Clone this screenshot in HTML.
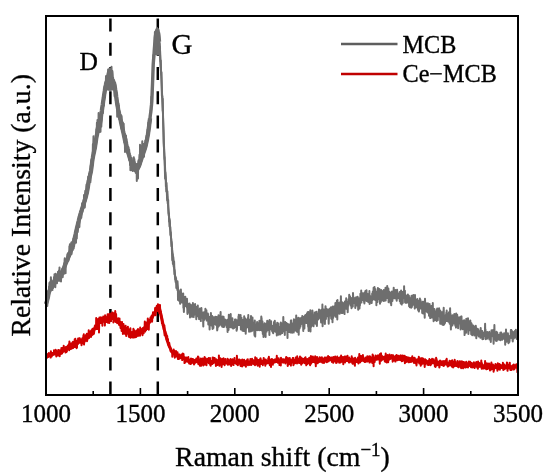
<!DOCTYPE html>
<html><head><meta charset="utf-8"><style>
html,body{margin:0;padding:0;background:#fff;width:550px;height:476px;overflow:hidden}
svg{display:block}
</style></head><body>
<svg width="550" height="476" viewBox="0 0 550 476">
<rect width="550" height="476" fill="#fff"/>
<line x1="110.4" y1="394.6" x2="110.4" y2="17" stroke="#000" stroke-width="2.5" stroke-dasharray="13 11.2"/>
<line x1="157.8" y1="394.6" x2="157.8" y2="17" stroke="#000" stroke-width="2.5" stroke-dasharray="13 11.2"/>
<polyline points="46.0,304.0 46.2,303.3 46.5,302.5 46.8,301.7 47.0,300.9 47.2,300.0 47.5,299.0 47.8,297.9 48.0,296.6 48.2,295.3 48.5,294.0 48.8,292.9 49.0,292.0 49.2,291.3 49.5,290.8 49.8,290.2 50.0,289.8 50.2,289.3 50.5,288.9 50.8,288.5 51.0,288.0 51.2,287.5 51.5,287.0 51.8,286.6 52.0,286.1 52.2,285.6 52.5,285.1 52.8,284.6 53.0,284.1 53.2,283.7 53.5,283.2 53.8,282.7 54.0,282.3 54.2,281.8 54.5,281.4 54.8,281.0 55.0,280.5 55.2,280.1 55.5,279.7 55.8,279.4 56.0,279.0 56.2,278.7 56.5,278.3 56.8,278.0 57.0,277.7 57.2,277.4 57.5,277.2 57.8,276.9 58.0,276.6 58.2,276.4 58.5,276.1 58.8,275.9 59.0,275.6 59.2,275.4 59.5,275.1 59.8,274.9 60.0,274.6 60.2,274.3 60.5,274.0 60.8,273.7 61.0,273.4 61.2,273.1 61.5,272.8 61.8,272.4 62.0,272.0 62.2,271.6 62.5,271.1 62.8,270.6 63.0,270.1 63.2,269.5 63.5,268.9 63.8,268.3 64.0,267.7 64.2,267.1 64.5,266.5 64.8,265.8 65.0,265.2 65.2,264.6 65.5,264.0 65.8,263.4 66.0,262.8 66.2,262.2 66.5,261.6 66.8,261.0 67.0,260.5 67.2,259.9 67.5,259.3 67.8,258.7 68.0,258.1 68.2,257.4 68.5,256.8 68.8,256.2 69.0,255.6 69.2,254.9 69.5,254.3 69.8,253.7 70.0,253.0 70.2,252.3 70.5,251.7 70.8,251.0 71.0,250.4 71.2,249.7 71.5,249.0 71.8,248.3 72.0,247.6 72.2,246.9 72.5,246.2 72.8,245.4 73.0,244.7 73.2,243.8 73.5,243.0 73.8,242.1 74.0,241.2 74.2,240.2 74.5,239.1 74.8,238.0 75.0,236.9 75.2,235.8 75.5,234.7 75.8,233.5 76.0,232.4 76.2,231.3 76.5,230.1 76.8,229.1 77.0,228.0 77.2,227.0 77.5,225.9 77.8,224.9 78.0,223.8 78.2,222.8 78.5,221.8 78.8,220.7 79.0,219.7 79.2,218.7 79.5,217.7 79.8,216.8 80.0,215.8 80.2,214.9 80.5,214.0 80.8,213.1 81.0,212.3 81.2,211.5 81.5,210.7 81.8,209.9 82.0,209.2 82.2,208.4 82.5,207.7 82.8,206.9 83.0,206.2 83.2,205.4 83.5,204.6 83.8,203.8 84.0,203.0 84.2,202.2 84.5,201.3 84.8,200.5 85.0,199.7 85.2,198.8 85.5,198.0 85.8,197.1 86.0,196.2 86.2,195.2 86.5,194.2 86.8,193.1 87.0,192.0 87.2,190.7 87.5,189.3 87.8,187.8 88.0,186.1 88.2,184.5 88.5,182.9 88.8,181.4 89.0,180.0 89.2,178.8 89.5,177.7 89.8,176.6 90.0,175.6 90.2,174.6 90.5,173.5 90.8,172.3 91.0,171.0 91.2,169.4 91.5,167.5 91.8,165.5 92.0,163.4 92.2,161.4 92.5,159.6 92.8,158.1 93.0,156.7 93.2,155.5 93.5,154.3 93.8,153.1 94.0,152.0 94.2,150.8 94.5,149.6 94.8,148.4 95.0,147.0 95.2,145.5 95.5,143.8 95.8,142.1 96.0,140.3 96.2,138.6 96.5,137.1 96.8,135.8 97.0,134.6 97.2,133.5 97.5,132.5 97.8,131.6 98.0,130.7 98.2,129.9 98.5,129.1 98.8,128.2 99.0,127.3 99.2,126.4 99.5,125.3 99.8,124.2 100.0,123.0 100.2,121.6 100.5,120.0 100.8,118.2 101.0,116.3 101.2,114.5 101.5,112.7 101.8,111.0 102.0,109.3 102.2,107.7 102.5,106.0 102.8,104.3 103.0,102.7 103.2,101.0 103.5,99.3 103.8,97.7 104.0,96.0 104.2,94.3 104.5,92.6 104.8,90.9 105.0,89.4 105.2,87.9 105.5,86.4 105.8,85.2 106.0,84.1 106.2,83.1 106.5,82.3 106.8,81.5 107.0,80.9 107.2,80.4 107.5,80.1 107.8,79.7 108.0,79.4 108.2,79.2 108.5,79.0 108.8,78.8 109.0,78.8 109.2,78.8 109.5,78.8 109.8,78.8 110.0,78.8 110.2,78.8 110.5,78.8 110.8,78.8 111.0,78.8 111.2,78.8 111.5,79.0 111.8,79.2 112.0,79.4 112.2,79.7 112.5,80.1 112.8,80.4 113.0,80.9 113.2,81.4 113.5,82.2 113.8,83.0 114.0,83.9 114.2,84.8 114.5,85.8 114.8,87.0 115.0,88.2 115.2,89.6 115.5,91.1 115.8,92.8 116.0,94.7 116.2,96.6 116.5,98.6 116.8,100.6 117.0,102.6 117.2,104.3 117.5,105.8 117.8,107.1 118.0,108.4 118.2,109.5 118.5,110.7 118.8,111.8 119.0,113.0 119.2,114.2 119.5,115.3 119.8,116.4 120.0,117.6 120.2,118.7 120.5,119.8 120.8,120.9 121.0,122.0 121.2,123.1 121.5,124.2 121.8,125.4 122.0,126.5 122.2,127.6 122.5,128.8 122.8,129.9 123.0,131.0 123.2,132.1 123.5,133.3 123.8,134.4 124.0,135.5 124.2,136.7 124.5,137.8 124.8,138.9 125.0,140.0 125.2,141.1 125.5,142.2 125.8,143.4 126.0,144.5 126.2,145.6 126.5,146.6 126.8,147.6 127.0,148.6 127.2,149.5 127.5,150.4 127.8,151.2 128.0,152.0 128.2,152.8 128.5,153.5 128.8,154.3 129.0,155.1 129.2,155.8 129.5,156.7 129.8,157.5 130.0,158.3 130.2,159.2 130.5,160.0 130.8,160.8 131.0,161.6 131.2,162.3 131.5,163.0 131.8,163.6 132.0,164.2 132.2,164.7 132.5,165.3 132.8,165.8 133.0,166.3 133.2,166.7 133.5,167.2 133.8,167.6 134.0,168.0 134.2,168.4 134.5,168.8 134.8,169.2 135.0,169.6 135.2,170.0 135.5,170.3 135.8,170.4 136.0,170.5 136.2,170.4 136.5,170.3 136.8,170.0 137.0,169.7 137.2,169.3 137.5,168.9 137.8,168.4 138.0,168.0 138.2,167.5 138.5,167.0 138.8,166.5 139.0,165.9 139.2,165.3 139.5,164.6 139.8,163.9 140.0,163.1 140.2,162.3 140.5,161.5 140.8,160.8 141.0,160.0 141.2,159.2 141.5,158.4 141.8,157.6 142.0,156.8 142.2,156.0 142.5,155.2 142.8,154.5 143.0,153.8 143.2,153.1 143.5,152.4 143.8,151.7 144.0,151.1 144.2,150.4 144.5,149.6 144.8,148.9 145.0,148.1 145.2,147.2 145.5,146.3 145.8,145.3 146.0,144.2 146.2,143.1 146.5,142.0 146.8,140.8 147.0,139.6 147.2,138.3 147.5,136.9 147.8,135.5 148.0,134.0 148.2,132.5 148.5,130.8 148.8,129.0 149.0,127.0 149.2,125.0 149.5,122.8 149.8,120.6 150.0,118.4" fill="none" stroke="#6e6e6e" stroke-width="4.3" stroke-linejoin="round"/>
<polyline points="149.0,127.0 149.2,125.0 149.5,122.8 149.8,120.6 150.0,118.4 150.2,116.2 150.5,114.0 150.8,112.0 151.0,110.0 151.2,107.7 151.5,105.0 151.8,101.3 152.0,96.6 152.2,91.2 152.5,84.2 152.8,76.3 153.0,70.1 153.2,64.7 153.5,60.5 153.8,57.3 154.0,54.5 154.2,51.3 154.5,47.4 154.8,43.6 155.0,40.6 155.2,37.8 155.5,35.6 155.8,34.2 156.0,33.0 156.2,31.9 156.5,31.0 156.8,30.2 157.0,29.7 157.2,29.5 157.5,29.6 157.8,30.0 158.0,30.8 158.2,31.7 158.5,32.9 158.8,34.2 159.0,35.7 159.2,38.3 159.5,41.6" fill="none" stroke="#6e6e6e" stroke-width="3.4" stroke-linejoin="round"/>
<polyline points="159.0,35.7 159.2,38.3 159.5,41.6 159.8,45.4 160.0,50.1 160.2,54.9 160.5,60.0 160.8,64.9 161.0,69.9 161.2,75.3 161.5,80.9 161.8,86.6 162.0,92.2 162.2,97.4 162.5,102.7 162.8,108.5 163.0,114.7 163.2,121.4 163.5,129.4 163.8,137.7 164.0,145.0 164.2,151.1 164.5,156.7 164.8,161.9 165.0,166.6 165.2,170.8 165.5,174.6 165.8,178.1 166.0,181.3 166.2,184.4 166.5,187.4 166.8,190.3 167.0,193.1 167.2,195.9 167.5,198.6 167.8,201.3 168.0,204.0 168.2,206.8 168.5,209.6 168.8,212.4 169.0,215.2 169.2,218.0 169.5,220.7 169.8,223.5 170.0,226.3 170.2,229.0 170.5,231.7 170.8,234.4 171.0,237.0 171.2,239.6 171.5,242.2 171.8,244.8 172.0,247.4 172.2,249.9 172.5,252.3 172.8,254.7 173.0,257.0 173.2,259.3 173.5,261.6 173.8,263.9 174.0,266.2 174.2,268.4 174.5,270.6 174.8,272.7 175.0,274.7 175.2,276.5 175.5,278.2 175.8,279.7 176.0,281.0 176.2,282.1 176.5,283.2 176.8,284.3 177.0,285.2 177.2,286.1 177.5,287.0 177.8,287.8 178.0,288.6 178.2,289.4 178.5,290.1 178.8,290.8 179.0,291.5 179.2,292.1 179.5,292.8 179.8,293.4 180.0,294.0" fill="none" stroke="#6e6e6e" stroke-width="2.0" stroke-linejoin="round"/>
<polyline points="179.0,291.5 179.5,292.8 180.0,294.0 180.5,295.2 181.0,296.4 181.5,297.5 182.0,298.5 182.5,299.5 183.0,300.4 183.5,301.2 184.0,302.0 184.5,302.7 185.0,303.5 185.5,304.1 186.0,304.8 186.5,305.4 187.0,306.0 187.5,306.6 188.0,307.2 188.5,307.7 189.0,308.1 189.5,308.6 190.0,309.0 190.5,309.4 191.0,309.7 191.5,310.0 192.0,310.3 192.5,310.6 193.0,310.9 193.5,311.2 194.0,311.4 194.5,311.7 195.0,312.0 195.5,312.3 196.0,312.6 196.5,312.9 197.0,313.2 197.5,313.6 198.0,313.9 198.5,314.2 199.0,314.5 199.5,314.7 200.0,315.0 200.5,315.3 201.0,315.5 201.5,315.8 202.0,316.0 202.5,316.3 203.0,316.5 203.5,316.7 204.0,317.0 204.5,317.2 205.0,317.4 205.5,317.6 206.0,317.8 206.5,318.0 207.0,318.2 207.5,318.3 208.0,318.5 208.5,318.7 209.0,318.8 209.5,318.9 210.0,319.1 210.5,319.2 211.0,319.4 211.5,319.5 212.0,319.6 212.5,319.8 213.0,319.9 213.5,320.0 214.0,320.2 214.5,320.3 215.0,320.4 215.5,320.5 216.0,320.6 216.5,320.8 217.0,320.9 217.5,321.0 218.0,321.1 218.5,321.2 219.0,321.3 219.5,321.4 220.0,321.5 220.5,321.6 221.0,321.7 221.5,321.8 222.0,321.9 222.5,321.9 223.0,322.0 223.5,322.1 224.0,322.2 224.5,322.3 225.0,322.4 225.5,322.4 226.0,322.5 226.5,322.6 227.0,322.6 227.5,322.7 228.0,322.8 228.5,322.8 229.0,322.9 229.5,323.0 230.0,323.0 230.5,323.1 231.0,323.1 231.5,323.2 232.0,323.2 232.5,323.3 233.0,323.3 233.5,323.4 234.0,323.4 234.5,323.5 235.0,323.5 235.5,323.6 236.0,323.6 236.5,323.7 237.0,323.7 237.5,323.8 238.0,323.8 238.5,323.9 239.0,323.9 239.5,324.0 240.0,324.0 240.5,324.1 241.0,324.1 241.5,324.2 242.0,324.2 242.5,324.3 243.0,324.3 243.5,324.4 244.0,324.4 244.5,324.5 245.0,324.6 245.5,324.6 246.0,324.7 246.5,324.8 247.0,324.8 247.5,324.9 248.0,325.0 248.5,325.1 249.0,325.1 249.5,325.2 250.0,325.3 250.5,325.4 251.0,325.4 251.5,325.5 252.0,325.6 252.5,325.7 253.0,325.8 253.5,325.8 254.0,325.9 254.5,326.0 255.0,326.1 255.5,326.1 256.0,326.2 256.5,326.3 257.0,326.4 257.5,326.4 258.0,326.5 258.5,326.6 259.0,326.6 259.5,326.7 260.0,326.7 260.5,326.8 261.0,326.8 261.5,326.9 262.0,326.9 262.5,327.0 263.0,327.0 263.5,327.1 264.0,327.1 264.5,327.1 265.0,327.2 265.5,327.2 266.0,327.3 266.5,327.3 267.0,327.3 267.5,327.4 268.0,327.4 268.5,327.4 269.0,327.5 269.5,327.5 270.0,327.6 270.5,327.6 271.0,327.6 271.5,327.7 272.0,327.7 272.5,327.7 273.0,327.7 273.5,327.8 274.0,327.8 274.5,327.8 275.0,327.9 275.5,327.9 276.0,327.9 276.5,327.9 277.0,327.9 277.5,327.9 278.0,328.0 278.5,328.0 279.0,328.0 279.5,328.0 280.0,328.0 280.5,328.0 281.0,328.0 281.5,328.0 282.0,328.0 282.5,328.0 283.0,327.9 283.5,327.9 284.0,327.9 284.5,327.8 285.0,327.8 285.5,327.8 286.0,327.7 286.5,327.6 287.0,327.6 287.5,327.5 288.0,327.4 288.5,327.4 289.0,327.3 289.5,327.2 290.0,327.2 290.5,327.1 291.0,327.0 291.5,326.9 292.0,326.8 292.5,326.7 293.0,326.5 293.5,326.3 294.0,326.2 294.5,326.0 295.0,325.8 295.5,325.5 296.0,325.3 296.5,325.1 297.0,324.8 297.5,324.6 298.0,324.3 298.5,324.1 299.0,323.8 299.5,323.6 300.0,323.4 300.5,323.1 301.0,322.9 301.5,322.7 302.0,322.5 302.5,322.3 303.0,322.1 303.5,321.9 304.0,321.7 304.5,321.5 305.0,321.3 305.5,321.1 306.0,321.0 306.5,320.8 307.0,320.6 307.5,320.4 308.0,320.2 308.5,320.0 309.0,319.8 309.5,319.6 310.0,319.5 310.5,319.3 311.0,319.1 311.5,318.9 312.0,318.7 312.5,318.6 313.0,318.4 313.5,318.2 314.0,318.1 314.5,317.9 315.0,317.7 315.5,317.6 316.0,317.4 316.5,317.3 317.0,317.1 317.5,317.0 318.0,316.8 318.5,316.7 319.0,316.5 319.5,316.4 320.0,316.2 320.5,316.1 321.0,315.9 321.5,315.7 322.0,315.6 322.5,315.4 323.0,315.2 323.5,315.0 324.0,314.8 324.5,314.6 325.0,314.4 325.5,314.2 326.0,314.0 326.5,313.8 327.0,313.6 327.5,313.4 328.0,313.1 328.5,312.9 329.0,312.7 329.5,312.4 330.0,312.2 330.5,311.9 331.0,311.7 331.5,311.5 332.0,311.2 332.5,311.0 333.0,310.7 333.5,310.5 334.0,310.2 334.5,310.0 335.0,309.8 335.5,309.5 336.0,309.3 336.5,309.0 337.0,308.8 337.5,308.5 338.0,308.3 338.5,308.0 339.0,307.7 339.5,307.5 340.0,307.2 340.5,307.0 341.0,306.7 341.5,306.5 342.0,306.2 342.5,306.0 343.0,305.7 343.5,305.5 344.0,305.2 344.5,305.0 345.0,304.7 345.5,304.5 346.0,304.3 346.5,304.0 347.0,303.8 347.5,303.5 348.0,303.3 348.5,303.0 349.0,302.8 349.5,302.5 350.0,302.3 350.5,302.1 351.0,301.8 351.5,301.6 352.0,301.4 352.5,301.2 353.0,301.0 353.5,300.8 354.0,300.6 354.5,300.4 355.0,300.3 355.5,300.1 356.0,300.0 356.5,299.9 357.0,299.8 357.5,299.7 358.0,299.6 358.5,299.5 359.0,299.4 359.5,299.3 360.0,299.2 360.5,299.2 361.0,299.1 361.5,299.0 362.0,299.0 362.5,298.9 363.0,298.8 363.5,298.8 364.0,298.7 364.5,298.6 365.0,298.6 365.5,298.5 366.0,298.4 366.5,298.4 367.0,298.3 367.5,298.2 368.0,298.2 368.5,298.1 369.0,298.0 369.5,298.0 370.0,297.9 370.5,297.8 371.0,297.8 371.5,297.7 372.0,297.6 372.5,297.6 373.0,297.5 373.5,297.5 374.0,297.4 374.5,297.3 375.0,297.3 375.5,297.2 376.0,297.2 376.5,297.1 377.0,297.1 377.5,297.0 378.0,297.0 378.5,297.0 379.0,296.9 379.5,296.9 380.0,296.9 380.5,296.8 381.0,296.8 381.5,296.8 382.0,296.7 382.5,296.7 383.0,296.7 383.5,296.7 384.0,296.6 384.5,296.6 385.0,296.6 385.5,296.6 386.0,296.5 386.5,296.5 387.0,296.5 387.5,296.4 388.0,296.4 388.5,296.3 389.0,296.3 389.5,296.2 390.0,296.2 390.5,296.1 391.0,296.0 391.5,295.9 392.0,295.8 392.5,295.7 393.0,295.6 393.5,295.4 394.0,295.3 394.5,295.2 395.0,295.1 395.5,295.0 396.0,295.0 396.5,294.9 397.0,294.8 397.5,294.8 398.0,294.8 398.5,294.8 399.0,294.9 399.5,294.9 400.0,295.0 400.5,295.1 401.0,295.3 401.5,295.4 402.0,295.6 402.5,295.8 403.0,296.0 403.5,296.2 404.0,296.4 404.5,296.6 405.0,296.8 405.5,297.0 406.0,297.2 406.5,297.4 407.0,297.6 407.5,297.9 408.0,298.1 408.5,298.4 409.0,298.6 409.5,298.9 410.0,299.2 410.5,299.5 411.0,299.8 411.5,300.1 412.0,300.4 412.5,300.7 413.0,301.1 413.5,301.4 414.0,301.7 414.5,302.0 415.0,302.3 415.5,302.7 416.0,303.0 416.5,303.3 417.0,303.6 417.5,303.9 418.0,304.2 418.5,304.5 419.0,304.8 419.5,305.1 420.0,305.3 420.5,305.6 421.0,305.9 421.5,306.2 422.0,306.5 422.5,306.8 423.0,307.1 423.5,307.4 424.0,307.7 424.5,308.0 425.0,308.3 425.5,308.6 426.0,308.9 426.5,309.1 427.0,309.4 427.5,309.7 428.0,310.0 428.5,310.2 429.0,310.5 429.5,310.8 430.0,311.0 430.5,311.3 431.0,311.5 431.5,311.8 432.0,312.1 432.5,312.3 433.0,312.6 433.5,312.8 434.0,313.1 434.5,313.3 435.0,313.6 435.5,313.8 436.0,314.1 436.5,314.3 437.0,314.5 437.5,314.8 438.0,315.0 438.5,315.2 439.0,315.4 439.5,315.6 440.0,315.8 440.5,316.0 441.0,316.2 441.5,316.4 442.0,316.5 442.5,316.7 443.0,316.8 443.5,317.0 444.0,317.1 444.5,317.3 445.0,317.4 445.5,317.6 446.0,317.7 446.5,317.9 447.0,318.0 447.5,318.1 448.0,318.3 448.5,318.4 449.0,318.6 449.5,318.7 450.0,318.8 450.5,319.0 451.0,319.2 451.5,319.3 452.0,319.5 452.5,319.7 453.0,319.9 453.5,320.0 454.0,320.2 454.5,320.4 455.0,320.6 455.5,320.8 456.0,321.0 456.5,321.2 457.0,321.4 457.5,321.6 458.0,321.8 458.5,322.0 459.0,322.2 459.5,322.4 460.0,322.6 460.5,322.8 461.0,323.1 461.5,323.3 462.0,323.5 462.5,323.8 463.0,324.0 463.5,324.3 464.0,324.5 464.5,324.8 465.0,325.1 465.5,325.4 466.0,325.7 466.5,326.1 467.0,326.4 467.5,326.8 468.0,327.1 468.5,327.4 469.0,327.8 469.5,328.1 470.0,328.5 470.5,328.8 471.0,329.1 471.5,329.4 472.0,329.7 472.5,330.0 473.0,330.3 473.5,330.6 474.0,330.8 474.5,331.0 475.0,331.2 475.5,331.4 476.0,331.6 476.5,331.8 477.0,332.0 477.5,332.2 478.0,332.4 478.5,332.5 479.0,332.7 479.5,332.9 480.0,333.1 480.5,333.2 481.0,333.4 481.5,333.5 482.0,333.7 482.5,333.8 483.0,333.9 483.5,334.0 484.0,334.1 484.5,334.2 485.0,334.3 485.5,334.4 486.0,334.5 486.5,334.6 487.0,334.6 487.5,334.7 488.0,334.7 488.5,334.8 489.0,334.8 489.5,334.9 490.0,334.9 490.5,335.0 491.0,335.0 491.5,335.0 492.0,335.1 492.5,335.1 493.0,335.2 493.5,335.2 494.0,335.2 494.5,335.3 495.0,335.3 495.5,335.4 496.0,335.4 496.5,335.4 497.0,335.5 497.5,335.6 498.0,335.6 498.5,335.7 499.0,335.8 499.5,335.8 500.0,335.9 500.5,336.0 501.0,336.1 501.5,336.2 502.0,336.3 502.5,336.4 503.0,336.4 503.5,336.5 504.0,336.6 504.5,336.7 505.0,336.7 505.5,336.8 506.0,336.9 506.5,336.9 507.0,336.9 507.5,337.0 508.0,337.0 508.5,337.0 509.0,337.0 509.5,337.0 510.0,337.0 510.5,337.0 511.0,336.9 511.5,336.9 512.0,336.9 512.5,336.8 513.0,336.8 513.5,336.7 514.0,336.7 514.5,336.6 515.0,336.5 515.5,336.5 516.0,336.4 516.5,336.3 517.0,336.2 517.5,336.1 518.0,336.0" fill="none" stroke="#6e6e6e" stroke-width="3.6" stroke-linejoin="round"/>
<polygon points="105,90 106.5,82 110,79 113.5,82 115,90 110,91" fill="#6e6e6e"/>
<polygon points="155,55 155.4,40 156.4,30.5 157.4,26.5 158.4,30.5 159.5,40 159.9,55" fill="#6e6e6e"/>
<polyline points="46.0,305.5 46.2,306.2 46.4,303.3 46.6,300.2 46.8,301.2 46.9,298.4 47.1,301.8 47.3,306.1 47.5,297.9 47.7,296.5 47.9,299.8 48.1,298.2 48.3,296.0 48.5,290.7 48.7,293.3 48.8,295.3 49.0,286.4 49.2,289.3 49.4,282.9 49.6,284.9 49.8,282.2 50.0,288.2 50.2,283.7 50.4,289.5 50.6,288.7 50.7,287.0 50.9,277.3 51.1,285.0 51.3,286.8 51.5,287.2 51.7,280.3 51.9,284.4 52.1,282.1 52.3,282.6 52.5,289.9 52.6,282.0 52.8,284.8 53.0,288.1 53.2,281.7 53.4,283.2 53.6,283.6 53.8,282.9 54.0,277.1 54.2,281.9 54.4,286.6 54.5,274.3 54.7,283.7 54.9,280.3 55.1,276.9 55.3,287.3 55.5,282.0 55.7,273.8 55.9,278.7 56.1,280.6 56.3,277.3 56.4,280.7 56.6,277.4 56.8,280.3 57.0,283.2 57.2,274.4 57.4,277.8 57.6,274.9 57.8,277.2 58.0,271.7 58.2,274.0 58.3,275.4 58.5,279.8 58.7,280.7 58.9,270.5 59.1,272.6 59.3,278.4 59.5,267.5 59.7,273.7 59.9,275.2 60.1,280.7 60.2,278.4 60.4,274.1 60.6,273.9 60.8,274.3 61.0,281.5 61.2,273.4 61.4,273.7 61.6,276.2 61.8,274.0 62.0,273.3 62.1,269.2 62.3,273.3 62.5,271.1 62.7,277.2 62.9,274.6 63.1,271.3 63.3,273.7 63.5,269.0 63.7,274.3 63.9,269.4 64.0,271.3 64.2,263.0 64.4,269.2 64.6,260.2 64.8,258.2 65.0,264.7 65.2,261.6 65.4,265.3 65.6,273.3 65.8,259.8 65.9,260.0 66.1,262.8 66.3,263.4 66.5,260.0 66.7,259.4 66.9,262.7 67.1,261.4 67.3,254.5 67.5,258.1 67.7,258.2 67.8,253.3 68.0,258.4 68.2,253.4 68.4,260.7 68.6,257.1 68.8,256.3 69.0,253.1 69.2,254.6 69.4,246.3 69.6,249.5 69.7,255.2 69.9,244.2 70.1,256.1 70.3,244.7 70.5,254.6 70.7,247.2 70.9,253.4 71.1,250.1 71.3,242.5 71.5,253.7 71.6,254.0 71.8,247.1 72.0,245.8 72.2,245.8 72.4,241.9 72.6,250.2 72.8,242.9 73.0,244.6 73.2,241.0 73.4,241.4 73.5,238.2 73.7,248.5 73.9,242.1 74.1,246.4 74.3,241.8 74.5,238.3 74.7,239.2 74.9,237.6 75.1,239.4 75.3,237.1 75.4,236.7 75.6,231.4 75.8,233.1 76.0,242.8 76.2,232.1 76.4,229.6 76.6,234.8 76.8,238.6 77.0,225.5 77.2,230.1 77.3,227.5 77.5,221.9 77.7,231.9 77.9,227.8 78.1,227.5 78.3,223.1 78.5,227.5 78.7,222.3 78.9,223.2 79.1,218.1 79.2,216.7 79.4,226.9 79.6,217.9 79.8,220.5 80.0,218.2 80.2,215.5 80.4,214.3 80.6,218.4 80.8,213.5 81.0,213.4 81.1,213.4 81.3,217.6 81.5,214.7 81.7,212.6 81.9,207.6 82.1,203.2 82.3,212.4 82.5,211.5 82.7,205.7 82.9,207.7 83.0,207.8 83.2,207.1 83.4,206.6 83.6,199.8 83.8,207.8 84.0,195.1 84.2,203.9 84.4,201.9 84.6,203.3 84.8,207.5 84.9,205.4 85.1,193.5 85.3,190.7 85.5,201.3 85.7,192.6 85.9,196.4 86.1,199.4 86.3,187.6 86.5,184.6 86.7,194.2 86.8,192.2 87.0,189.9 87.2,190.1 87.4,185.0 87.6,180.9 87.8,185.7 88.0,180.9 88.2,176.7 88.4,185.1 88.6,181.4 88.7,182.5 88.9,175.2 89.1,175.8 89.3,173.3 89.5,173.0 89.7,177.0 89.9,171.8 90.1,176.1 90.3,175.2 90.5,181.9 90.6,165.5 90.8,174.7 91.0,169.2 91.2,168.2 91.4,160.1 91.6,162.9 91.8,166.6 92.0,161.1 92.2,160.1 92.4,156.7 92.5,161.8 92.7,155.2 92.9,144.0 93.1,149.9 93.3,143.0 93.5,136.3 93.7,147.9 93.9,155.7 94.1,149.0 94.3,142.6 94.4,142.7 94.6,151.3 94.8,145.7 95.0,144.0 95.2,142.2 95.4,141.1 95.6,143.1 95.8,140.2 96.0,137.0 96.2,129.4 96.3,135.1 96.5,128.0 96.7,135.0 96.9,122.7 97.1,127.0 97.3,126.7 97.5,119.9 97.7,133.6 97.9,132.0 98.1,122.8 98.2,128.6 98.4,126.9 98.6,113.0 98.8,126.8 99.0,125.6 99.2,126.6 99.4,121.4 99.6,125.4 99.8,125.8 100.0,132.1 100.1,127.7 100.3,125.4 100.5,131.8 100.7,120.8 100.9,120.2 101.1,112.0 101.3,126.6 101.5,122.2 101.7,120.4 101.9,117.7 102.0,113.6 102.2,112.6 102.4,108.9 102.6,107.6 102.8,107.4 103.0,112.9 103.2,106.8 103.4,102.4 103.6,98.3 103.8,96.5 103.9,105.8 104.1,98.9 104.3,95.2 104.5,91.7 104.7,86.5 104.9,90.3 105.1,93.6 105.3,86.2 105.5,85.8 105.7,84.7 105.8,85.2 106.0,75.9 106.2,81.5 106.4,77.4 106.6,84.8 106.8,75.6 107.0,81.2 107.2,84.9 107.4,75.1 107.6,73.0 107.7,76.3 107.9,74.8 108.1,69.6 108.3,76.6 108.5,84.1 108.7,73.0 108.9,73.4 109.1,69.4 109.3,76.2 109.5,68.6 109.6,69.3 109.8,80.9 110.0,70.1 110.2,79.6 110.4,81.5 110.6,75.0 110.8,76.2 111.0,82.9 111.2,72.3 111.4,70.4 111.5,66.8 111.7,74.0 111.9,81.5 112.1,79.5 112.3,70.8 112.5,72.0 112.7,74.5 112.9,79.2 113.1,77.6 113.3,80.6 113.4,82.0 113.6,80.1 113.8,82.5 114.0,84.7 114.2,84.4 114.4,88.3 114.6,96.2 114.8,91.1 115.0,89.8 115.2,82.7 115.3,94.1 115.5,84.2 115.7,88.4 115.9,101.0 116.1,101.8 116.3,99.2 116.5,93.1 116.7,101.0 116.9,100.7 117.1,108.1 117.2,116.7 117.4,107.5 117.6,103.2 117.8,101.8 118.0,107.5 118.2,107.5 118.4,103.4 118.6,110.2 118.8,105.0 119.0,116.8 119.1,117.7 119.3,119.0 119.5,112.9 119.7,118.9 119.9,117.0 120.1,117.0 120.3,118.3 120.5,114.7 120.7,114.8 120.9,126.1 121.0,122.0 121.2,124.5 121.4,128.6 121.6,116.1 121.8,121.0 122.0,125.9 122.2,127.4 122.4,124.3 122.6,131.5 122.8,128.4 122.9,122.6 123.1,124.9 123.3,134.1 123.5,133.6 123.7,123.7 123.9,140.2 124.1,137.9 124.3,142.5 124.5,135.6 124.7,137.0 124.8,134.1 125.0,152.0 125.2,140.1 125.4,149.0 125.6,139.2 125.8,143.6 126.0,135.6 126.2,142.1 126.4,148.9 126.6,139.1 126.7,150.5 126.9,147.6 127.1,141.9 127.3,145.0 127.5,145.9 127.7,148.6 127.9,147.2 128.1,146.7 128.3,150.0 128.5,147.7 128.6,147.5 128.8,154.3 129.0,159.7 129.2,149.7 129.4,157.9 129.6,156.1 129.8,155.7 130.0,165.2 130.2,160.0 130.4,170.2 130.5,160.7 130.7,166.8 130.9,164.7 131.1,162.8 131.3,169.4 131.5,166.2 131.7,169.9 131.9,166.9 132.1,162.2 132.3,166.6 132.4,167.1 132.6,171.0 132.8,162.3 133.0,166.0 133.2,158.1 133.4,168.7 133.6,160.7 133.8,157.3 134.0,165.2 134.2,170.6 134.3,158.9 134.5,161.2 134.7,163.3 134.9,162.1 135.1,169.6 135.3,164.9 135.5,166.0 135.7,172.6 135.9,167.2 136.1,173.2 136.2,167.3 136.4,166.6 136.6,164.1 136.8,180.9 137.0,171.0 137.2,173.4 137.4,171.8 137.6,172.1 137.8,171.0 138.0,178.6 138.1,164.4 138.3,161.1 138.5,162.5 138.7,159.9 138.9,168.2 139.1,167.3 139.3,157.9 139.5,154.7 139.7,158.2 139.9,165.0 140.0,144.7 140.2,159.0 140.4,150.7 140.6,159.6 140.8,149.2 141.0,152.1 141.2,145.9 141.4,147.8 141.6,158.1 141.8,155.0 141.9,148.9 142.1,146.4 142.3,141.3 142.5,147.9 142.7,149.3 142.9,148.8 143.1,148.6 143.3,143.7 143.5,148.4 143.7,148.3 143.8,154.3 144.0,156.7 144.2,147.2 144.4,144.1 144.6,147.0 144.8,144.1 145.0,143.1 145.2,145.7 145.4,140.6 145.6,147.5 145.7,143.5 145.9,144.3 146.1,141.5 146.3,138.0 146.5,136.0 146.7,138.3 146.9,135.9 147.1,138.6 147.3,136.6 147.5,129.4 147.6,135.3 147.8,128.0 148.0,130.7 148.2,131.5 148.4,122.4 148.6,131.6 148.8,130.9 149.0,128.3 149.2,125.7 149.4,124.5 149.5,120.0 149.7,121.6 149.9,118.3 150.1,119.4 150.3,111.2 150.5,116.0 150.7,113.6 150.9,110.4 151.1,107.0 151.3,109.7 151.4,96.8 151.6,104.3 151.8,100.0 152.0,96.4 152.2,92.8 152.4,83.1 152.6,79.1 152.8,77.9 153.0,72.3 153.2,67.1 153.3,55.1 153.5,62.5 153.7,63.4 153.9,60.7 154.1,54.9 154.3,43.9 154.5,53.5 154.7,45.6 154.9,32.0 155.1,44.5 155.2,33.8 155.4,33.6 155.6,36.2 155.8,45.0 156.0,36.4 156.2,39.0 156.4,45.6 156.6,44.2 156.8,35.2 157.0,33.9 157.1,28.3 157.3,30.7 157.5,35.9 157.7,35.7 157.9,34.4 158.1,39.2 158.3,31.2 158.5,35.6 158.7,40.5 158.9,41.1 159.0,45.1 159.2,44.1 159.4,43.4 159.6,49.7 159.8,46.3 160.0,46.9 160.2,61.3 160.4,61.8 160.6,67.1 160.8,60.6 160.9,70.5 161.1,72.8 161.3,75.2 161.5,72.3 161.7,85.7 161.9,95.7 162.1,97.0 162.3,96.1 162.5,102.9 162.7,111.0 162.8,98.8 163.0,116.3 163.2,124.7 163.4,131.4 163.6,142.6 163.8,146.2 164.0,147.9 164.2,152.5 164.4,159.1 164.6,157.1 164.7,163.1 164.9,170.9 165.1,178.8 165.3,172.2 165.5,175.4 165.7,179.0 165.9,186.5 166.1,182.6 166.3,191.6 166.5,182.9 166.6,188.6 166.8,190.7 167.0,197.2 167.2,200.5 167.4,191.3 167.6,196.1 167.8,203.7 168.0,201.5 168.2,200.0 168.4,213.4 168.5,213.2 168.7,215.4 168.9,213.3 169.1,222.0 169.3,218.6 169.5,226.5 169.7,219.9 169.9,222.2 170.1,228.9 170.3,227.0 170.4,235.0 170.6,235.3 170.8,232.3 171.0,238.6 171.2,238.9 171.4,246.3 171.6,241.7 171.8,244.5 172.0,253.4 172.2,259.7 172.3,260.5 172.5,254.3 172.7,256.8 172.9,264.0 173.1,258.9 173.3,257.1 173.5,263.5 173.7,266.6 173.9,263.1 174.1,261.5 174.2,264.0 174.4,274.3 174.6,270.0 174.8,274.1 175.0,277.0 175.2,280.0 175.4,277.3 175.6,281.9 175.8,277.2 176.0,280.3 176.1,278.5 176.3,288.1 176.5,284.1 176.7,282.0 176.9,284.3 177.1,285.5 177.3,290.0 177.5,281.3 177.7,284.3 177.9,287.6 178.0,300.0 178.2,294.3 178.4,290.6 178.6,294.5 178.8,300.6 179.0,291.9 179.2,291.9 179.4,298.8 179.6,296.5 179.8,297.7 179.9,293.4 180.1,303.7 180.3,303.3 180.5,299.1 180.7,300.0 180.9,289.6 181.1,300.7 181.3,297.8 181.5,300.8 181.7,302.2 181.8,298.6 182.0,293.7 182.2,302.4 182.4,298.3 182.6,300.4 182.8,299.7 183.0,301.2 183.2,293.6 183.4,308.1 183.6,304.5 183.7,308.2 183.9,311.9 184.1,304.3 184.3,297.1 184.5,300.9 184.7,299.7 184.9,302.6 185.1,304.9 185.3,296.7 185.5,306.1 185.6,298.7 185.8,305.9 186.0,304.4 186.2,303.6 186.4,304.7 186.6,302.9 186.8,302.8 187.0,298.7 187.2,305.4 187.4,313.1 187.5,313.9 187.7,311.4 187.9,309.1 188.1,303.8 188.3,312.5 188.5,306.6 188.7,306.7 188.9,306.0 189.1,307.7 189.3,305.8 189.4,307.3 189.6,303.5 189.8,306.6 190.0,317.4 190.2,308.2 190.4,307.8 190.6,311.1 190.8,312.0 191.0,305.0 191.2,308.9 191.3,313.6 191.5,311.2 191.7,310.8 191.9,316.7 192.1,307.9 192.3,311.0 192.5,308.7 192.7,316.8 192.9,303.1 193.1,308.3 193.2,308.9 193.4,313.8 193.6,313.6 193.8,316.9 194.0,305.2 194.2,314.6 194.4,310.6 194.6,309.2 194.8,314.2 195.0,308.5 195.1,304.0 195.3,311.0 195.5,306.6 195.7,310.1 195.9,314.3 196.1,314.1 196.3,319.3 196.5,312.2 196.7,307.0 196.9,310.1 197.0,309.5 197.2,308.4 197.4,315.1 197.6,310.8 197.8,305.6 198.0,316.3 198.2,313.2 198.4,315.2 198.6,314.3 198.8,316.5 198.9,314.2 199.1,319.1 199.3,315.9 199.5,315.8 199.7,315.9 199.9,308.5 200.1,313.7 200.3,313.4 200.5,315.3 200.7,309.0 200.8,321.1 201.0,315.0 201.2,309.8 201.4,308.0 201.6,313.8 201.8,314.7 202.0,312.3 202.2,315.7 202.4,312.9 202.6,317.8 202.7,312.9 202.9,315.8 203.1,320.0 203.3,326.5 203.5,312.4 203.7,314.7 203.9,313.3 204.1,319.9 204.3,312.3 204.5,315.0 204.6,316.9 204.8,313.2 205.0,313.3 205.2,315.3 205.4,308.8 205.6,311.5 205.8,315.6 206.0,317.9 206.2,316.5 206.4,310.2 206.5,315.5 206.7,320.6 206.9,319.7 207.1,317.3 207.3,314.2 207.5,320.5 207.7,315.8 207.9,313.6 208.1,315.3 208.3,324.4 208.4,319.7 208.6,323.6 208.8,317.2 209.0,323.0 209.2,317.0 209.4,318.9 209.6,329.5 209.8,322.7 210.0,317.7 210.2,319.5 210.3,321.2 210.5,324.8 210.7,318.0 210.9,313.1 211.1,319.0 211.3,320.3 211.5,320.7 211.7,325.6 211.9,321.6 212.1,323.7 212.2,316.1 212.4,324.0 212.6,329.0 212.8,323.7 213.0,321.7 213.2,321.4 213.4,328.0 213.6,317.2 213.8,320.5 214.0,322.9 214.1,324.1 214.3,319.4 214.5,322.4 214.7,320.1 214.9,321.8 215.1,320.8 215.3,316.7 215.5,321.2 215.7,324.8 215.9,317.4 216.0,320.3 216.2,323.9 216.4,317.0 216.6,322.0 216.8,317.0 217.0,325.7 217.2,330.4 217.4,329.2 217.6,320.2 217.8,323.9 217.9,321.3 218.1,321.1 218.3,326.8 218.5,315.2 218.7,324.6 218.9,320.1 219.1,325.8 219.3,320.9 219.5,317.4 219.7,321.2 219.8,323.1 220.0,320.3 220.2,322.2 220.4,318.3 220.6,312.0 220.8,324.4 221.0,323.7 221.2,321.7 221.4,321.6 221.6,325.6 221.7,319.8 221.9,319.0 222.1,321.1 222.3,326.7 222.5,316.5 222.7,326.8 222.9,319.5 223.1,317.7 223.3,327.1 223.5,321.6 223.6,316.8 223.8,320.5 224.0,325.7 224.2,326.7 224.4,320.2 224.6,323.6 224.8,324.9 225.0,319.5 225.2,323.5 225.4,322.1 225.5,320.1 225.7,320.4 225.9,322.7 226.1,322.6 226.3,320.3 226.5,320.9 226.7,327.2 226.9,323.6 227.1,326.3 227.3,327.6 227.4,325.2 227.6,331.9 227.8,319.6 228.0,326.1 228.2,321.5 228.4,330.2 228.6,329.5 228.8,314.8 229.0,318.7 229.2,325.2 229.3,325.7 229.5,325.5 229.7,322.3 229.9,324.5 230.1,325.3 230.3,322.5 230.5,327.1 230.7,314.1 230.9,325.8 231.1,319.3 231.2,327.5 231.4,322.9 231.6,320.5 231.8,325.7 232.0,320.7 232.2,320.8 232.4,318.2 232.6,324.4 232.8,326.5 233.0,328.5 233.1,323.8 233.3,328.4 233.5,324.2 233.7,323.6 233.9,326.1 234.1,327.9 234.3,322.1 234.5,322.4 234.7,322.6 234.9,323.4 235.0,319.4 235.2,327.0 235.4,321.2 235.6,324.6 235.8,319.4 236.0,324.1 236.2,324.2 236.4,321.0 236.6,330.8 236.8,324.2 236.9,330.0 237.1,326.8 237.3,320.4 237.5,321.6 237.7,325.0 237.9,323.6 238.1,323.7 238.3,322.4 238.5,316.4 238.7,322.7 238.8,314.7 239.0,325.1 239.2,320.6 239.4,320.6 239.6,322.5 239.8,324.4 240.0,317.5 240.2,316.1 240.4,318.8 240.6,314.9 240.7,319.2 240.9,329.4 241.1,318.9 241.3,325.8 241.5,317.8 241.7,324.6 241.9,322.2 242.1,323.3 242.3,326.0 242.5,330.8 242.6,324.7 242.8,324.5 243.0,320.1 243.2,326.4 243.4,323.1 243.6,327.4 243.8,323.9 244.0,331.1 244.2,316.2 244.4,322.9 244.5,327.6 244.7,322.6 244.9,320.9 245.1,322.9 245.3,318.5 245.5,324.4 245.7,333.7 245.9,328.5 246.1,319.4 246.3,320.4 246.4,322.2 246.6,327.8 246.8,320.5 247.0,321.0 247.2,327.3 247.4,327.2 247.6,322.3 247.8,319.4 248.0,317.7 248.2,321.1 248.3,315.0 248.5,327.0 248.7,321.6 248.9,326.1 249.1,331.8 249.3,329.1 249.5,319.9 249.7,328.1 249.9,329.4 250.1,321.9 250.2,321.3 250.4,324.8 250.6,319.0 250.8,331.4 251.0,316.0 251.2,321.3 251.4,324.8 251.6,325.1 251.8,326.7 252.0,327.2 252.1,325.3 252.3,330.7 252.5,317.6 252.7,326.2 252.9,323.3 253.1,326.6 253.3,327.0 253.5,322.4 253.7,323.5 253.9,329.2 254.0,327.4 254.2,323.4 254.4,334.3 254.6,335.5 254.8,320.5 255.0,327.6 255.2,336.6 255.4,329.8 255.6,327.6 255.8,326.0 255.9,324.8 256.1,326.1 256.3,324.8 256.5,330.0 256.7,325.4 256.9,325.1 257.1,322.0 257.3,326.4 257.5,322.9 257.7,325.6 257.8,330.3 258.0,327.4 258.2,327.8 258.4,327.0 258.6,325.7 258.8,324.8 259.0,323.9 259.2,328.1 259.4,320.7 259.6,330.3 259.7,325.0 259.9,321.9 260.1,323.0 260.3,322.3 260.5,325.7 260.7,322.3 260.9,329.9 261.1,322.3 261.3,316.5 261.5,322.9 261.6,318.0 261.8,326.0 262.0,330.6 262.2,329.1 262.4,321.3 262.6,323.8 262.8,334.0 263.0,328.3 263.2,327.1 263.4,331.4 263.5,337.0 263.7,332.4 263.9,327.9 264.1,328.8 264.3,329.9 264.5,325.0 264.7,323.2 264.9,327.7 265.1,323.8 265.3,327.3 265.4,327.9 265.6,336.9 265.8,324.1 266.0,327.0 266.2,326.8 266.4,329.2 266.6,331.6 266.8,325.4 267.0,324.1 267.2,320.8 267.3,323.7 267.5,329.7 267.7,327.8 267.9,323.6 268.1,326.3 268.3,328.1 268.5,330.1 268.7,325.8 268.9,327.3 269.1,321.1 269.2,323.9 269.4,335.1 269.6,319.9 269.8,327.4 270.0,329.7 270.2,327.3 270.4,325.6 270.6,328.6 270.8,328.8 271.0,328.4 271.1,321.2 271.3,328.0 271.5,325.1 271.7,326.2 271.9,329.2 272.1,330.7 272.3,331.6 272.5,325.9 272.7,331.5 272.9,332.4 273.0,332.2 273.2,333.2 273.4,327.0 273.6,326.9 273.8,330.9 274.0,322.1 274.2,328.5 274.4,325.5 274.6,326.2 274.8,320.7 274.9,324.1 275.1,327.6 275.3,331.3 275.5,331.8 275.7,327.5 275.9,327.2 276.1,324.7 276.3,329.7 276.5,327.2 276.7,330.7 276.8,335.4 277.0,328.4 277.2,322.7 277.4,325.4 277.6,323.2 277.8,324.4 278.0,334.5 278.2,330.4 278.4,323.5 278.6,332.3 278.7,334.8 278.9,328.4 279.1,327.1 279.3,328.4 279.5,330.9 279.7,332.2 279.9,334.2 280.1,334.2 280.3,333.9 280.5,334.4 280.6,331.4 280.8,322.4 281.0,327.8 281.2,329.4 281.4,326.4 281.6,331.4 281.8,326.1 282.0,323.7 282.2,333.1 282.4,329.8 282.5,327.9 282.7,330.7 282.9,331.2 283.1,328.2 283.3,317.0 283.5,324.1 283.7,325.0 283.9,322.9 284.1,327.6 284.3,331.6 284.4,324.9 284.6,322.3 284.8,335.0 285.0,325.1 285.2,322.0 285.4,327.8 285.6,328.6 285.8,324.0 286.0,329.9 286.2,324.8 286.3,323.0 286.5,327.3 286.7,329.7 286.9,324.0 287.1,327.9 287.3,326.2 287.5,337.9 287.7,323.8 287.9,332.2 288.1,326.5 288.2,326.2 288.4,329.6 288.6,330.3 288.8,331.9 289.0,328.1 289.2,324.4 289.4,324.6 289.6,328.8 289.8,329.0 290.0,332.2 290.1,328.3 290.3,330.8 290.5,332.5 290.7,327.1 290.9,320.4 291.1,321.6 291.3,320.5 291.5,332.5 291.7,322.7 291.9,331.0 292.0,328.3 292.2,332.8 292.4,329.9 292.6,325.5 292.8,325.1 293.0,326.2 293.2,326.5 293.4,323.7 293.6,325.8 293.8,332.4 293.9,319.2 294.1,327.0 294.3,322.4 294.5,326.8 294.7,329.5 294.9,325.9 295.1,329.2 295.3,319.7 295.5,330.5 295.7,323.6 295.8,328.4 296.0,326.6 296.2,315.4 296.4,322.6 296.6,326.4 296.8,331.6 297.0,326.4 297.2,326.2 297.4,319.4 297.6,330.6 297.7,332.0 297.9,324.7 298.1,323.5 298.3,317.8 298.5,327.6 298.7,334.7 298.9,326.6 299.1,328.6 299.3,325.6 299.5,319.4 299.6,328.6 299.8,318.2 300.0,322.3 300.2,324.2 300.4,326.6 300.6,324.8 300.8,324.7 301.0,320.1 301.2,318.0 301.4,323.5 301.5,320.4 301.7,318.1 301.9,318.2 302.1,321.3 302.3,315.9 302.5,317.8 302.7,316.6 302.9,323.8 303.1,324.6 303.3,330.9 303.4,316.7 303.6,319.8 303.8,325.9 304.0,321.2 304.2,320.5 304.4,328.4 304.6,320.0 304.8,316.5 305.0,315.6 305.2,322.1 305.3,321.8 305.5,315.0 305.7,316.5 305.9,322.6 306.1,322.8 306.3,318.0 306.5,323.1 306.7,323.0 306.9,313.6 307.1,319.5 307.2,322.4 307.4,318.5 307.6,312.2 307.8,319.6 308.0,323.7 308.2,327.0 308.4,311.9 308.6,331.1 308.8,316.1 309.0,324.4 309.1,325.5 309.3,324.5 309.5,321.1 309.7,315.8 309.9,322.9 310.1,317.5 310.3,310.2 310.5,331.5 310.7,323.0 310.9,327.3 311.0,316.3 311.2,325.7 311.4,326.1 311.6,325.9 311.8,319.5 312.0,314.7 312.2,318.7 312.4,310.5 312.6,312.3 312.8,319.4 312.9,315.0 313.1,318.2 313.3,318.3 313.5,326.3 313.7,323.7 313.9,318.2 314.1,323.1 314.3,315.0 314.5,316.7 314.7,321.5 314.8,312.8 315.0,316.5 315.2,312.2 315.4,317.8 315.6,323.8 315.8,314.1 316.0,317.9 316.2,313.3 316.4,312.2 316.6,311.7 316.7,322.4 316.9,326.0 317.1,318.4 317.3,313.6 317.5,319.2 317.7,315.1 317.9,319.6 318.1,317.6 318.3,317.6 318.5,318.9 318.6,314.1 318.8,314.8 319.0,309.5 319.2,314.6 319.4,310.6 319.6,315.7 319.8,312.3 320.0,316.5 320.2,317.8 320.4,310.2 320.5,312.5 320.7,311.9 320.9,318.6 321.1,322.4 321.3,319.0 321.5,314.2 321.7,321.4 321.9,309.5 322.1,321.6 322.3,313.0 322.4,304.5 322.6,326.2 322.8,321.9 323.0,311.5 323.2,316.3 323.4,314.7 323.6,315.9 323.8,309.5 324.0,312.6 324.2,317.0 324.3,315.9 324.5,319.7 324.7,315.0 324.9,323.9 325.1,311.4 325.3,315.1 325.5,306.2 325.7,308.7 325.9,318.9 326.1,309.6 326.2,315.4 326.4,313.0 326.6,309.0 326.8,311.8 327.0,311.1 327.2,311.2 327.4,316.2 327.6,315.8 327.8,310.9 328.0,309.6 328.1,314.3 328.3,312.8 328.5,317.2 328.7,323.7 328.9,316.4 329.1,312.8 329.3,312.2 329.5,309.4 329.7,309.1 329.9,308.6 330.0,311.0 330.2,310.8 330.4,315.4 330.6,310.7 330.8,311.4 331.0,307.2 331.2,318.6 331.4,313.9 331.6,319.0 331.8,314.9 331.9,317.6 332.1,310.6 332.3,314.4 332.5,322.2 332.7,306.4 332.9,315.9 333.1,317.9 333.3,312.6 333.5,313.8 333.7,315.7 333.8,307.7 334.0,311.9 334.2,306.5 334.4,307.1 334.6,307.1 334.8,308.8 335.0,309.8 335.2,310.9 335.4,303.0 335.6,316.8 335.7,313.2 335.9,311.3 336.1,306.7 336.3,307.7 336.5,310.2 336.7,309.5 336.9,300.8 337.1,310.7 337.3,319.6 337.5,300.0 337.6,311.7 337.8,309.1 338.0,307.1 338.2,313.2 338.4,302.7 338.6,308.3 338.8,313.6 339.0,306.7 339.2,305.8 339.4,307.9 339.5,305.6 339.7,313.7 339.9,303.5 340.1,310.8 340.3,302.0 340.5,309.8 340.7,306.5 340.9,296.3 341.1,306.8 341.3,302.4 341.4,304.9 341.6,313.0 341.8,302.0 342.0,302.2 342.2,312.5 342.4,307.0 342.6,312.9 342.8,307.8 343.0,302.9 343.2,306.2 343.3,311.5 343.5,310.3 343.7,306.4 343.9,306.6 344.1,305.9 344.3,303.9 344.5,314.1 344.7,306.1 344.9,301.4 345.1,304.0 345.2,308.8 345.4,308.3 345.6,305.0 345.8,302.7 346.0,305.4 346.2,298.2 346.4,299.6 346.6,308.0 346.8,302.6 347.0,305.9 347.1,309.2 347.3,306.6 347.5,303.8 347.7,312.3 347.9,306.1 348.1,301.7 348.3,306.0 348.5,304.6 348.7,299.3 348.9,303.1 349.0,302.1 349.2,294.7 349.4,302.2 349.6,301.8 349.8,301.2 350.0,296.3 350.2,301.6 350.4,303.0 350.6,303.6 350.8,298.5 350.9,305.7 351.1,298.1 351.3,302.1 351.5,308.3 351.7,300.0 351.9,300.6 352.1,307.0 352.3,300.9 352.5,301.1 352.7,303.2 352.8,306.5 353.0,293.1 353.2,298.6 353.4,297.9 353.6,297.5 353.8,298.4 354.0,298.4 354.2,303.0 354.4,298.1 354.6,302.1 354.7,303.2 354.9,298.5 355.1,301.9 355.3,308.0 355.5,302.5 355.7,298.5 355.9,300.8 356.1,297.2 356.3,302.0 356.5,304.4 356.6,297.6 356.8,300.1 357.0,305.5 357.2,298.9 357.4,301.8 357.6,296.8 357.8,297.7 358.0,298.9 358.2,309.7 358.4,299.3 358.5,298.8 358.7,298.5 358.9,300.0 359.1,303.2 359.3,301.2 359.5,308.5 359.7,301.0 359.9,305.8 360.1,300.9 360.3,302.1 360.4,293.8 360.6,299.0 360.8,299.1 361.0,298.3 361.2,290.6 361.4,302.6 361.6,297.4 361.8,297.1 362.0,297.7 362.2,297.7 362.3,300.1 362.5,293.2 362.7,294.4 362.9,299.1 363.1,298.4 363.3,296.2 363.5,295.3 363.7,294.1 363.9,297.2 364.1,302.1 364.2,293.1 364.4,303.5 364.6,300.8 364.8,295.7 365.0,300.8 365.2,291.9 365.4,291.0 365.6,292.9 365.8,296.5 366.0,297.0 366.1,296.4 366.3,299.1 366.5,290.2 366.7,300.9 366.9,293.4 367.1,296.5 367.3,297.6 367.5,294.7 367.7,293.9 367.9,295.5 368.0,299.5 368.2,301.9 368.4,301.8 368.6,295.5 368.8,296.2 369.0,295.6 369.2,301.0 369.4,290.9 369.6,303.9 369.8,296.8 369.9,295.4 370.1,299.8 370.3,302.4 370.5,299.4 370.7,302.1 370.9,298.3 371.1,302.5 371.3,302.5 371.5,297.0 371.7,303.1 371.8,297.9 372.0,297.6 372.2,293.4 372.4,295.9 372.6,300.1 372.8,291.6 373.0,299.4 373.2,298.1 373.4,297.8 373.6,287.7 373.7,296.1 373.9,299.0 374.1,293.3 374.3,296.8 374.5,286.9 374.7,299.1 374.9,293.8 375.1,300.0 375.3,289.1 375.5,299.3 375.6,295.5 375.8,299.7 376.0,292.7 376.2,293.8 376.4,305.2 376.6,292.7 376.8,293.1 377.0,294.6 377.2,291.4 377.4,300.2 377.5,302.1 377.7,292.2 377.9,288.0 378.1,299.5 378.3,299.2 378.5,298.0 378.7,299.3 378.9,291.2 379.1,294.0 379.3,289.1 379.4,289.0 379.6,298.6 379.8,292.0 380.0,303.8 380.2,295.0 380.4,292.1 380.6,297.9 380.8,302.0 381.0,296.7 381.2,289.9 381.3,296.4 381.5,300.5 381.7,293.1 381.9,292.1 382.1,299.4 382.3,296.1 382.5,291.2 382.7,294.3 382.9,292.9 383.1,297.2 383.2,296.6 383.4,300.9 383.6,299.2 383.8,290.1 384.0,298.1 384.2,300.1 384.4,298.4 384.6,300.7 384.8,294.3 385.0,292.7 385.1,300.2 385.3,292.2 385.5,287.7 385.7,300.4 385.9,293.2 386.1,294.8 386.3,290.3 386.5,290.4 386.7,290.9 386.9,294.0 387.0,296.7 387.2,285.9 387.4,298.0 387.6,290.2 387.8,290.6 388.0,297.5 388.2,294.4 388.4,288.6 388.6,302.2 388.8,291.3 388.9,295.8 389.1,295.7 389.3,300.7 389.5,293.3 389.7,299.3 389.9,292.4 390.1,300.0 390.3,292.6 390.5,294.3 390.7,303.5 390.8,297.3 391.0,296.5 391.2,305.2 391.4,297.6 391.6,292.9 391.8,299.2 392.0,291.4 392.2,300.7 392.4,301.0 392.6,293.8 392.7,293.5 392.9,296.7 393.1,296.0 393.3,292.0 393.5,298.2 393.7,287.7 393.9,294.2 394.1,294.3 394.3,294.8 394.5,297.2 394.6,291.0 394.8,298.2 395.0,295.1 395.2,293.1 395.4,290.1 395.6,290.8 395.8,296.8 396.0,291.3 396.2,295.3 396.4,299.1 396.5,298.8 396.7,300.7 396.9,293.1 397.1,289.7 397.3,298.0 397.5,295.0 397.7,298.2 397.9,293.6 398.1,298.3 398.3,296.8 398.4,296.3 398.6,295.4 398.8,295.1 399.0,294.5 399.2,294.6 399.4,297.9 399.6,292.0 399.8,301.3 400.0,294.1 400.2,298.7 400.3,294.6 400.5,294.2 400.7,303.5 400.9,294.3 401.1,290.6 401.3,293.0 401.5,294.6 401.7,304.6 401.9,296.9 402.1,299.8 402.2,292.0 402.4,297.4 402.6,298.6 402.8,303.1 403.0,292.9 403.2,298.1 403.4,296.8 403.6,291.4 403.8,295.4 404.0,294.4 404.1,286.2 404.3,298.0 404.5,298.0 404.7,294.2 404.9,290.8 405.1,302.4 405.3,297.7 405.5,301.0 405.7,302.8 405.9,295.3 406.0,300.9 406.2,296.8 406.4,297.7 406.6,297.7 406.8,298.1 407.0,302.7 407.2,298.7 407.4,297.6 407.6,297.1 407.8,299.5 407.9,294.6 408.1,296.1 408.3,297.9 408.5,295.8 408.7,297.6 408.9,295.7 409.1,306.2 409.3,303.5 409.5,300.1 409.7,298.2 409.8,307.2 410.0,299.9 410.2,298.4 410.4,300.0 410.6,300.2 410.8,304.7 411.0,299.1 411.2,307.7 411.4,295.9 411.6,302.3 411.7,295.7 411.9,307.0 412.1,298.5 412.3,299.7 412.5,303.7 412.7,305.1 412.9,295.8 413.1,299.0 413.3,295.0 413.5,301.3 413.6,300.5 413.8,299.8 414.0,298.7 414.2,300.2 414.4,299.0 414.6,304.4 414.8,308.6 415.0,295.1 415.2,302.7 415.4,301.7 415.5,305.6 415.7,300.1 415.9,303.5 416.1,300.1 416.3,307.3 416.5,305.1 416.7,304.2 416.9,306.4 417.1,304.1 417.3,299.0 417.4,307.7 417.6,306.5 417.8,304.8 418.0,309.4 418.2,310.4 418.4,301.1 418.6,302.3 418.8,311.6 419.0,311.0 419.2,302.3 419.3,300.5 419.5,302.5 419.7,303.0 419.9,298.6 420.1,305.0 420.3,299.7 420.5,300.0 420.7,308.6 420.9,302.2 421.1,304.8 421.2,307.7 421.4,308.6 421.6,304.1 421.8,305.8 422.0,302.5 422.2,312.9 422.4,308.6 422.6,301.7 422.8,306.2 423.0,309.1 423.1,308.2 423.3,313.6 423.5,311.9 423.7,304.3 423.9,306.1 424.1,301.4 424.3,307.7 424.5,307.4 424.7,317.7 424.9,307.5 425.0,298.8 425.2,304.7 425.4,308.0 425.6,302.7 425.8,304.4 426.0,306.6 426.2,309.5 426.4,307.7 426.6,304.9 426.8,311.8 426.9,306.6 427.1,307.0 427.3,303.6 427.5,306.2 427.7,312.1 427.9,303.2 428.1,309.6 428.3,312.9 428.5,308.7 428.7,311.3 428.8,306.0 429.0,315.8 429.2,315.1 429.4,311.7 429.6,303.9 429.8,306.8 430.0,315.1 430.2,318.1 430.4,312.6 430.6,316.5 430.7,309.2 430.9,311.0 431.1,311.9 431.3,313.7 431.5,306.0 431.7,315.9 431.9,317.5 432.1,307.7 432.3,306.9 432.5,313.8 432.6,309.9 432.8,303.1 433.0,315.8 433.2,313.3 433.4,310.9 433.6,321.3 433.8,313.5 434.0,310.0 434.2,313.5 434.4,309.0 434.5,310.2 434.7,314.8 434.9,311.1 435.1,311.5 435.3,320.0 435.5,316.8 435.7,316.5 435.9,315.5 436.1,315.3 436.3,319.2 436.4,313.4 436.6,321.0 436.8,309.8 437.0,312.8 437.2,308.4 437.4,312.7 437.6,316.3 437.8,320.2 438.0,311.9 438.2,314.7 438.3,313.3 438.5,311.9 438.7,310.3 438.9,315.4 439.1,308.3 439.3,315.8 439.5,315.6 439.7,313.1 439.9,311.8 440.1,310.5 440.2,323.7 440.4,311.0 440.6,322.7 440.8,319.0 441.0,315.2 441.2,312.1 441.4,321.0 441.6,323.7 441.8,313.1 442.0,315.6 442.1,320.9 442.3,318.0 442.5,324.7 442.7,314.4 442.9,318.8 443.1,311.6 443.3,325.0 443.5,313.7 443.7,307.8 443.9,316.2 444.0,316.2 444.2,324.4 444.4,315.4 444.6,316.7 444.8,319.1 445.0,323.0 445.2,316.3 445.4,320.7 445.6,318.5 445.8,315.1 445.9,316.6 446.1,316.3 446.3,312.5 446.5,321.0 446.7,310.6 446.9,320.9 447.1,320.2 447.3,316.1 447.5,313.6 447.7,316.0 447.8,319.0 448.0,320.3 448.2,318.7 448.4,321.8 448.6,315.8 448.8,319.2 449.0,312.2 449.2,321.8 449.4,319.5 449.6,317.4 449.7,323.8 449.9,322.1 450.1,308.2 450.3,319.7 450.5,313.8 450.7,323.9 450.9,329.5 451.1,317.6 451.3,319.9 451.5,318.6 451.6,321.0 451.8,322.1 452.0,324.5 452.2,315.5 452.4,325.5 452.6,315.5 452.8,320.2 453.0,323.6 453.2,321.7 453.4,315.2 453.5,316.1 453.7,317.0 453.9,318.6 454.1,323.4 454.3,313.9 454.5,320.9 454.7,321.6 454.9,321.6 455.1,321.4 455.3,325.7 455.4,321.9 455.6,323.5 455.8,322.6 456.0,327.6 456.2,313.5 456.4,326.0 456.6,320.3 456.8,320.5 457.0,318.0 457.2,314.8 457.3,320.7 457.5,319.7 457.7,324.3 457.9,317.0 458.1,328.2 458.3,323.8 458.5,321.9 458.7,320.1 458.9,319.8 459.1,318.5 459.2,320.7 459.4,322.7 459.6,322.0 459.8,317.3 460.0,321.5 460.2,319.1 460.4,323.1 460.6,329.5 460.8,324.9 461.0,321.4 461.1,316.6 461.3,317.5 461.5,316.6 461.7,325.8 461.9,320.4 462.1,323.7 462.3,321.3 462.5,324.2 462.7,329.2 462.9,321.7 463.0,323.2 463.2,321.6 463.4,328.0 463.6,321.2 463.8,320.9 464.0,320.2 464.2,320.2 464.4,327.3 464.6,335.1 464.8,322.1 464.9,329.3 465.1,326.7 465.3,321.8 465.5,324.8 465.7,325.0 465.9,323.3 466.1,332.7 466.3,318.7 466.5,326.9 466.7,326.6 466.8,323.3 467.0,325.9 467.2,328.5 467.4,325.8 467.6,326.8 467.8,327.9 468.0,318.2 468.2,330.9 468.4,333.9 468.6,329.4 468.7,329.7 468.9,321.2 469.1,326.0 469.3,323.6 469.5,324.6 469.7,330.3 469.9,324.1 470.1,326.6 470.3,320.4 470.5,326.7 470.6,327.6 470.8,324.9 471.0,324.9 471.2,334.2 471.4,323.3 471.6,324.0 471.8,324.9 472.0,332.0 472.2,335.3 472.4,329.2 472.5,325.7 472.7,326.9 472.9,332.2 473.1,325.5 473.3,334.0 473.5,334.0 473.7,329.6 473.9,331.8 474.1,332.4 474.3,335.4 474.4,326.6 474.6,334.5 474.8,329.3 475.0,328.1 475.2,331.2 475.4,330.3 475.6,327.7 475.8,325.8 476.0,328.1 476.2,336.4 476.3,338.2 476.5,333.9 476.7,335.9 476.9,330.2 477.1,331.9 477.3,333.2 477.5,328.8 477.7,329.2 477.9,333.0 478.1,331.7 478.2,329.3 478.4,334.3 478.6,332.2 478.8,336.5 479.0,333.1 479.2,332.2 479.4,333.6 479.6,332.7 479.8,331.1 480.0,332.0 480.1,335.9 480.3,335.6 480.5,337.8 480.7,328.0 480.9,332.5 481.1,332.5 481.3,334.6 481.5,332.7 481.7,332.6 481.9,337.0 482.0,335.2 482.2,330.9 482.4,339.2 482.6,338.2 482.8,333.2 483.0,337.8 483.2,332.8 483.4,338.9 483.6,334.5 483.8,332.7 483.9,334.1 484.1,332.9 484.3,336.0 484.5,336.0 484.7,335.6 484.9,333.7 485.1,323.8 485.3,335.9 485.5,329.5 485.7,336.4 485.8,339.2 486.0,336.4 486.2,334.2 486.4,334.8 486.6,334.8 486.8,333.4 487.0,333.2 487.2,332.0 487.4,338.6 487.6,334.7 487.7,337.7 487.9,333.8 488.1,334.8 488.3,334.0 488.5,335.9 488.7,337.0 488.9,335.1 489.1,332.3 489.3,331.9 489.5,339.5 489.6,333.5 489.8,333.5 490.0,339.0 490.2,337.8 490.4,336.1 490.6,333.3 490.8,341.9 491.0,335.8 491.2,336.3 491.4,334.1 491.5,330.3 491.7,330.6 491.9,335.9 492.1,335.9 492.3,333.9 492.5,331.0 492.7,330.2 492.9,333.7 493.1,330.2 493.3,337.6 493.4,338.5 493.6,343.8 493.8,337.9 494.0,333.5 494.2,332.9 494.4,325.0 494.6,334.1 494.8,335.5 495.0,339.2 495.2,338.2 495.3,338.1 495.5,337.0 495.7,338.3 495.9,340.7 496.1,332.9 496.3,334.7 496.5,331.8 496.7,341.1 496.9,340.1 497.1,338.4 497.2,332.4 497.4,336.8 497.6,335.6 497.8,336.7 498.0,336.0 498.2,338.3 498.4,335.6 498.6,339.5 498.8,337.7 499.0,336.1 499.1,336.7 499.3,335.8 499.5,339.7 499.7,336.4 499.9,338.2 500.1,336.1 500.3,332.7 500.5,340.2 500.7,334.2 500.9,339.6 501.0,338.8 501.2,332.4 501.4,334.6 501.6,336.0 501.8,335.0 502.0,333.9 502.2,339.8 502.4,336.7 502.6,338.5 502.8,335.9 502.9,338.1 503.1,334.7 503.3,336.9 503.5,338.7 503.7,336.9 503.9,335.3 504.1,333.3 504.3,337.2 504.5,337.8 504.7,336.0 504.8,334.5 505.0,338.6 505.2,344.7 505.4,336.2 505.6,338.3 505.8,338.5 506.0,329.4 506.2,337.8 506.4,335.3 506.6,341.8 506.7,336.7 506.9,335.1 507.1,336.8 507.3,338.0 507.5,335.8 507.7,337.3 507.9,333.2 508.1,336.7 508.3,339.7 508.5,343.3 508.6,339.4 508.8,337.9 509.0,340.7 509.2,340.1 509.4,342.0 509.6,340.1 509.8,336.3 510.0,337.5 510.2,337.2 510.4,337.5 510.5,337.1 510.7,334.0 510.9,329.9 511.1,334.3 511.3,330.0 511.5,336.4 511.7,336.2 511.9,330.9 512.1,338.1 512.3,338.6 512.4,336.1 512.6,340.9 512.8,341.5 513.0,331.9 513.2,338.8 513.4,336.9 513.6,336.8 513.8,338.4 514.0,333.2 514.2,333.6 514.3,332.9 514.5,333.1 514.7,335.1 514.9,331.0 515.1,332.2 515.3,337.3 515.5,335.3 515.7,336.8 515.9,329.8 516.1,333.3 516.2,334.1 516.4,336.0 516.6,334.2 516.8,339.0 517.0,336.0 517.2,336.3 517.4,336.3 517.6,338.5 517.8,334.8 518.0,339.7" fill="none" stroke="#6e6e6e" stroke-width="2" stroke-linejoin="round"/>
<polyline points="46.0,355.5 46.5,355.4 47.0,355.3 47.5,355.2 48.0,355.1 48.5,355.0 49.0,354.9 49.5,354.8 50.0,354.7 50.5,354.6 51.0,354.5 51.5,354.3 52.0,354.2 52.5,354.1 53.0,353.9 53.5,353.8 54.0,353.6 54.5,353.5 55.0,353.3 55.5,353.1 56.0,352.9 56.5,352.7 57.0,352.6 57.5,352.3 58.0,352.1 58.5,351.9 59.0,351.7 59.5,351.5 60.0,351.3 60.5,351.1 61.0,350.9 61.5,350.6 62.0,350.4 62.5,350.2 63.0,350.0 63.5,349.7 64.0,349.5 64.5,349.2 65.0,349.0 65.5,348.7 66.0,348.5 66.5,348.2 67.0,348.0 67.5,347.7 68.0,347.4 68.5,347.2 69.0,346.9 69.5,346.7 70.0,346.4 70.5,346.1 71.0,345.9 71.5,345.6 72.0,345.4 72.5,345.1 73.0,344.9 73.5,344.6 74.0,344.4 74.5,344.1 75.0,343.9 75.5,343.6 76.0,343.4 76.5,343.1 77.0,342.9 77.5,342.6 78.0,342.3 78.5,342.1 79.0,341.8 79.5,341.5 80.0,341.2 80.5,341.0 81.0,340.7 81.5,340.5 82.0,340.2 82.5,339.9 83.0,339.6 83.5,339.3 84.0,339.0 84.5,338.7 85.0,338.4 85.5,338.1 86.0,337.7 86.5,337.4 87.0,337.0 87.5,336.6 88.0,336.1 88.5,335.6 89.0,335.1 89.5,334.6 90.0,334.0 90.5,333.4 91.0,332.8 91.5,332.2 92.0,331.6 92.5,330.9 93.0,330.3 93.5,329.7 94.0,329.1 94.5,328.5 95.0,327.9 95.5,327.4 96.0,326.8 96.5,326.3 97.0,325.7 97.5,325.1 98.0,324.5 98.5,323.8 99.0,323.2 99.5,322.7 100.0,322.1 100.5,321.5 101.0,321.0 101.5,320.6 102.0,320.1 102.5,319.7 103.0,319.4 103.5,319.1 104.0,318.9 104.5,318.7 105.0,318.5 105.5,318.4 106.0,318.2 106.5,318.0 107.0,317.9 107.5,317.7 108.0,317.6 108.5,317.5 109.0,317.4 109.5,317.4 110.0,317.3 110.5,317.3 111.0,317.3 111.5,317.4 112.0,317.5 112.5,317.6 113.0,317.7 113.5,317.9 114.0,318.1 114.5,318.3 115.0,318.5 115.5,318.8 116.0,319.0 116.5,319.3 117.0,319.6 117.5,320.0 118.0,320.6 118.5,321.3 119.0,322.0 119.5,322.9 120.0,323.7 120.5,324.6 121.0,325.4 121.5,326.3 122.0,327.0 122.5,327.7 123.0,328.3 123.5,328.8 124.0,329.2 124.5,329.6 125.0,329.9 125.5,330.2 126.0,330.6 126.5,330.9 127.0,331.1 127.5,331.4 128.0,331.7 128.5,331.9 129.0,332.2 129.5,332.4 130.0,332.7 130.5,333.0 131.0,333.2 131.5,333.5 132.0,333.8 132.5,334.1 133.0,334.4 133.5,334.6 134.0,334.8 134.5,334.9 135.0,335.0 135.5,335.0 136.0,334.9 136.5,334.8 137.0,334.6 137.5,334.3 138.0,334.1 138.5,333.7 139.0,333.4 139.5,333.0 140.0,332.6 140.5,332.2 141.0,331.8 141.5,331.4 142.0,331.0 142.5,330.6 143.0,330.1 143.5,329.6 144.0,329.1 144.5,328.5 145.0,327.9 145.5,327.3 146.0,326.7 146.5,326.0 147.0,325.4 147.5,324.7 148.0,324.0 148.5,323.3 149.0,322.6 149.5,321.8 150.0,321.0 150.5,320.1 151.0,319.2 151.5,318.3 152.0,317.4 152.5,316.5 153.0,315.5 153.5,314.6 154.0,313.7 154.5,312.9 155.0,312.1 155.5,311.4 156.0,310.5 156.5,309.7 157.0,308.8 157.5,308.1 158.0,307.5 158.5,307.2 159.0,307.4 159.5,308.5 160.0,310.4 160.5,312.7 161.0,315.3 161.5,317.8 162.0,320.0 162.5,322.0 163.0,324.1 163.5,326.3 164.0,328.4 164.5,330.4 165.0,332.4 165.5,334.3 166.0,336.1 166.5,337.9 167.0,339.7 167.5,341.4 168.0,342.9 168.5,344.3 169.0,345.5 169.5,346.6 170.0,347.7 170.5,348.7 171.0,349.7 171.5,350.6 172.0,351.4 172.5,352.2 173.0,352.8 173.5,353.3 174.0,353.8 174.5,354.1 175.0,354.5 175.5,354.8 176.0,355.1 176.5,355.3 177.0,355.5 177.5,355.8 178.0,356.0 178.5,356.2 179.0,356.4 179.5,356.5 180.0,356.7 180.5,357.0 181.0,357.2 181.5,357.4 182.0,357.6 182.5,357.9 183.0,358.1 183.5,358.3 184.0,358.6 184.5,358.8 185.0,359.0 185.5,359.2 186.0,359.4 186.5,359.6 187.0,359.8 187.5,359.9 188.0,360.0 188.5,360.1 189.0,360.2 189.5,360.3 190.0,360.3 190.5,360.4 191.0,360.4 191.5,360.5 192.0,360.5 192.5,360.6 193.0,360.6 193.5,360.6 194.0,360.7 194.5,360.7 195.0,360.8 195.5,360.8 196.0,360.8 196.5,360.9 197.0,360.9 197.5,360.9 198.0,361.0 198.5,361.0 199.0,361.0 199.5,361.0 200.0,361.1 200.5,361.1 201.0,361.1 201.5,361.1 202.0,361.2 202.5,361.2 203.0,361.2 203.5,361.2 204.0,361.2 204.5,361.3 205.0,361.3 205.5,361.3 206.0,361.3 206.5,361.3 207.0,361.4 207.5,361.4 208.0,361.4 208.5,361.4 209.0,361.4 209.5,361.4 210.0,361.5 210.5,361.5 211.0,361.5 211.5,361.5 212.0,361.5 212.5,361.6 213.0,361.6 213.5,361.6 214.0,361.6 214.5,361.6 215.0,361.6 215.5,361.7 216.0,361.7 216.5,361.7 217.0,361.7 217.5,361.7 218.0,361.8 218.5,361.8 219.0,361.8 219.5,361.8 220.0,361.8 220.5,361.8 221.0,361.9 221.5,361.9 222.0,361.9 222.5,361.9 223.0,361.9 223.5,361.9 224.0,362.0 224.5,362.0 225.0,362.0 225.5,362.0 226.0,362.0 226.5,362.0 227.0,362.1 227.5,362.1 228.0,362.1 228.5,362.1 229.0,362.1 229.5,362.1 230.0,362.1 230.5,362.1 231.0,362.2 231.5,362.2 232.0,362.2 232.5,362.2 233.0,362.2 233.5,362.2 234.0,362.2 234.5,362.2 235.0,362.2 235.5,362.2 236.0,362.3 236.5,362.3 237.0,362.3 237.5,362.3 238.0,362.3 238.5,362.3 239.0,362.3 239.5,362.3 240.0,362.3 240.5,362.3 241.0,362.3 241.5,362.3 242.0,362.3 242.5,362.3 243.0,362.3 243.5,362.3 244.0,362.3 244.5,362.3 245.0,362.3 245.5,362.3 246.0,362.3 246.5,362.3 247.0,362.3 247.5,362.2 248.0,362.2 248.5,362.2 249.0,362.2 249.5,362.2 250.0,362.2 250.5,362.2 251.0,362.2 251.5,362.2 252.0,362.1 252.5,362.1 253.0,362.1 253.5,362.1 254.0,362.1 254.5,362.1 255.0,362.1 255.5,362.0 256.0,362.0 256.5,362.0 257.0,362.0 257.5,362.0 258.0,362.0 258.5,361.9 259.0,361.9 259.5,361.9 260.0,361.9 260.5,361.9 261.0,361.8 261.5,361.8 262.0,361.8 262.5,361.8 263.0,361.8 263.5,361.8 264.0,361.7 264.5,361.7 265.0,361.7 265.5,361.7 266.0,361.7 266.5,361.7 267.0,361.6 267.5,361.6 268.0,361.6 268.5,361.6 269.0,361.6 269.5,361.6 270.0,361.6 270.5,361.5 271.0,361.5 271.5,361.5 272.0,361.5 272.5,361.5 273.0,361.5 273.5,361.5 274.0,361.5 274.5,361.5 275.0,361.5 275.5,361.4 276.0,361.4 276.5,361.4 277.0,361.4 277.5,361.4 278.0,361.4 278.5,361.4 279.0,361.4 279.5,361.4 280.0,361.4 280.5,361.4 281.0,361.4 281.5,361.4 282.0,361.3 282.5,361.3 283.0,361.3 283.5,361.3 284.0,361.3 284.5,361.3 285.0,361.3 285.5,361.3 286.0,361.3 286.5,361.3 287.0,361.3 287.5,361.3 288.0,361.3 288.5,361.3 289.0,361.3 289.5,361.3 290.0,361.2 290.5,361.2 291.0,361.2 291.5,361.2 292.0,361.2 292.5,361.2 293.0,361.2 293.5,361.2 294.0,361.2 294.5,361.2 295.0,361.2 295.5,361.2 296.0,361.2 296.5,361.1 297.0,361.1 297.5,361.1 298.0,361.1 298.5,361.1 299.0,361.1 299.5,361.1 300.0,361.1 300.5,361.1 301.0,361.1 301.5,361.0 302.0,361.0 302.5,361.0 303.0,361.0 303.5,361.0 304.0,361.0 304.5,361.0 305.0,361.0 305.5,360.9 306.0,360.9 306.5,360.9 307.0,360.9 307.5,360.9 308.0,360.8 308.5,360.8 309.0,360.8 309.5,360.7 310.0,360.7 310.5,360.7 311.0,360.6 311.5,360.6 312.0,360.6 312.5,360.5 313.0,360.5 313.5,360.5 314.0,360.4 314.5,360.4 315.0,360.4 315.5,360.3 316.0,360.3 316.5,360.2 317.0,360.2 317.5,360.2 318.0,360.1 318.5,360.1 319.0,360.1 319.5,360.0 320.0,360.0 320.5,359.9 321.0,359.9 321.5,359.9 322.0,359.8 322.5,359.8 323.0,359.8 323.5,359.7 324.0,359.7 324.5,359.7 325.0,359.6 325.5,359.6 326.0,359.6 326.5,359.5 327.0,359.5 327.5,359.5 328.0,359.5 328.5,359.4 329.0,359.4 329.5,359.4 330.0,359.4 330.5,359.4 331.0,359.4 331.5,359.3 332.0,359.3 332.5,359.3 333.0,359.3 333.5,359.3 334.0,359.3 334.5,359.3 335.0,359.3 335.5,359.3 336.0,359.3 336.5,359.4 337.0,359.4 337.5,359.4 338.0,359.5 338.5,359.5 339.0,359.5 339.5,359.6 340.0,359.6 340.5,359.7 341.0,359.8 341.5,359.8 342.0,359.9 342.5,359.9 343.0,360.0 343.5,360.0 344.0,360.1 344.5,360.2 345.0,360.2 345.5,360.3 346.0,360.3 346.5,360.3 347.0,360.4 347.5,360.4 348.0,360.4 348.5,360.5 349.0,360.5 349.5,360.5 350.0,360.5 350.5,360.5 351.0,360.5 351.5,360.5 352.0,360.5 352.5,360.5 353.0,360.4 353.5,360.4 354.0,360.4 354.5,360.4 355.0,360.3 355.5,360.3 356.0,360.3 356.5,360.2 357.0,360.2 357.5,360.2 358.0,360.1 358.5,360.1 359.0,360.0 359.5,360.0 360.0,360.0 360.5,359.9 361.0,359.9 361.5,359.8 362.0,359.8 362.5,359.7 363.0,359.7 363.5,359.6 364.0,359.6 364.5,359.5 365.0,359.5 365.5,359.4 366.0,359.4 366.5,359.3 367.0,359.3 367.5,359.2 368.0,359.2 368.5,359.1 369.0,359.1 369.5,359.0 370.0,359.0 370.5,359.0 371.0,358.9 371.5,358.9 372.0,358.8 372.5,358.8 373.0,358.8 373.5,358.7 374.0,358.7 374.5,358.7 375.0,358.6 375.5,358.6 376.0,358.6 376.5,358.5 377.0,358.5 377.5,358.5 378.0,358.4 378.5,358.4 379.0,358.4 379.5,358.3 380.0,358.3 380.5,358.2 381.0,358.2 381.5,358.2 382.0,358.1 382.5,358.1 383.0,358.1 383.5,358.1 384.0,358.0 384.5,358.0 385.0,358.0 385.5,358.0 386.0,358.0 386.5,357.9 387.0,357.9 387.5,357.9 388.0,357.9 388.5,357.9 389.0,357.9 389.5,357.9 390.0,357.9 390.5,357.9 391.0,357.9 391.5,357.9 392.0,357.9 392.5,357.9 393.0,357.9 393.5,357.9 394.0,357.9 394.5,358.0 395.0,358.0 395.5,358.0 396.0,358.0 396.5,358.0 397.0,358.0 397.5,358.0 398.0,358.0 398.5,358.1 399.0,358.1 399.5,358.1 400.0,358.1 400.5,358.1 401.0,358.2 401.5,358.2 402.0,358.2 402.5,358.3 403.0,358.4 403.5,358.4 404.0,358.5 404.5,358.6 405.0,358.7 405.5,358.8 406.0,358.9 406.5,359.0 407.0,359.1 407.5,359.2 408.0,359.3 408.5,359.4 409.0,359.5 409.5,359.6 410.0,359.7 410.5,359.8 411.0,359.9 411.5,359.9 412.0,360.0 412.5,360.1 413.0,360.1 413.5,360.2 414.0,360.3 414.5,360.3 415.0,360.4 415.5,360.5 416.0,360.5 416.5,360.6 417.0,360.7 417.5,360.7 418.0,360.8 418.5,360.9 419.0,360.9 419.5,361.0 420.0,361.1 420.5,361.1 421.0,361.2 421.5,361.2 422.0,361.3 422.5,361.4 423.0,361.4 423.5,361.5 424.0,361.5 424.5,361.6 425.0,361.7 425.5,361.7 426.0,361.8 426.5,361.8 427.0,361.9 427.5,362.0 428.0,362.0 428.5,362.1 429.0,362.1 429.5,362.2 430.0,362.2 430.5,362.3 431.0,362.3 431.5,362.4 432.0,362.4 432.5,362.5 433.0,362.5 433.5,362.6 434.0,362.6 434.5,362.7 435.0,362.7 435.5,362.8 436.0,362.8 436.5,362.9 437.0,362.9 437.5,363.0 438.0,363.0 438.5,363.0 439.0,363.1 439.5,363.1 440.0,363.2 440.5,363.2 441.0,363.2 441.5,363.3 442.0,363.3 442.5,363.4 443.0,363.4 443.5,363.4 444.0,363.5 444.5,363.5 445.0,363.5 445.5,363.6 446.0,363.6 446.5,363.7 447.0,363.7 447.5,363.7 448.0,363.8 448.5,363.8 449.0,363.8 449.5,363.9 450.0,363.9 450.5,363.9 451.0,364.0 451.5,364.0 452.0,364.0 452.5,364.1 453.0,364.1 453.5,364.1 454.0,364.1 454.5,364.2 455.0,364.2 455.5,364.2 456.0,364.3 456.5,364.3 457.0,364.3 457.5,364.4 458.0,364.4 458.5,364.4 459.0,364.5 459.5,364.5 460.0,364.5 460.5,364.5 461.0,364.6 461.5,364.6 462.0,364.6 462.5,364.7 463.0,364.7 463.5,364.7 464.0,364.8 464.5,364.8 465.0,364.8 465.5,364.8 466.0,364.9 466.5,364.9 467.0,364.9 467.5,365.0 468.0,365.0 468.5,365.0 469.0,365.1 469.5,365.1 470.0,365.1 470.5,365.2 471.0,365.2 471.5,365.2 472.0,365.3 472.5,365.3 473.0,365.3 473.5,365.4 474.0,365.4 474.5,365.5 475.0,365.5 475.5,365.5 476.0,365.6 476.5,365.6 477.0,365.7 477.5,365.7 478.0,365.8 478.5,365.8 479.0,365.8 479.5,365.9 480.0,365.9 480.5,366.0 481.0,366.0 481.5,366.1 482.0,366.1 482.5,366.2 483.0,366.2 483.5,366.2 484.0,366.3 484.5,366.3 485.0,366.4 485.5,366.4 486.0,366.5 486.5,366.5 487.0,366.5 487.5,366.6 488.0,366.6 488.5,366.7 489.0,366.7 489.5,366.8 490.0,366.8 490.5,366.8 491.0,366.9 491.5,366.9 492.0,366.9 492.5,367.0 493.0,367.0 493.5,367.0 494.0,367.1 494.5,367.1 495.0,367.1 495.5,367.2 496.0,367.2 496.5,367.2 497.0,367.2 497.5,367.3 498.0,367.3 498.5,367.3 499.0,367.3 499.5,367.3 500.0,367.3 500.5,367.4 501.0,367.4 501.5,367.4 502.0,367.4 502.5,367.4 503.0,367.4 503.5,367.4 504.0,367.4 504.5,367.4 505.0,367.4 505.5,367.4 506.0,367.4 506.5,367.4 507.0,367.3 507.5,367.3 508.0,367.3 508.5,367.3 509.0,367.2 509.5,367.2 510.0,367.2 510.5,367.2 511.0,367.1 511.5,367.1 512.0,367.0 512.5,367.0 513.0,367.0 513.5,366.9 514.0,366.9 514.5,366.8 515.0,366.8 515.5,366.7 516.0,366.7 516.5,366.7 517.0,366.6 517.5,366.6 518.0,366.5" fill="none" stroke="#d00000" stroke-width="3" stroke-linejoin="round"/>
<polyline points="46.0,355.0 46.2,357.8 46.4,355.4 46.6,353.9 46.8,356.4 46.9,354.1 47.1,357.8 47.3,357.2 47.5,355.4 47.7,356.4 47.9,356.3 48.1,354.6 48.3,356.9 48.5,354.6 48.7,356.2 48.8,353.1 49.0,355.1 49.2,355.7 49.4,353.3 49.6,354.0 49.8,353.7 50.0,356.2 50.2,353.2 50.4,355.5 50.6,357.6 50.7,355.2 50.9,351.2 51.1,354.7 51.3,356.5 51.5,353.8 51.7,356.5 51.9,355.5 52.1,355.0 52.3,353.6 52.5,353.0 52.6,353.5 52.8,354.1 53.0,355.0 53.2,354.7 53.4,353.2 53.6,353.9 53.8,354.5 54.0,350.3 54.2,352.0 54.4,351.9 54.5,353.1 54.7,352.8 54.9,352.8 55.1,351.5 55.3,354.6 55.5,353.7 55.7,349.7 55.9,353.0 56.1,350.6 56.3,356.4 56.4,351.9 56.6,351.9 56.8,352.8 57.0,352.2 57.2,352.4 57.4,355.6 57.6,352.8 57.8,354.0 58.0,354.5 58.2,350.1 58.3,355.5 58.5,353.4 58.7,353.9 58.9,350.0 59.1,353.4 59.3,352.5 59.5,350.4 59.7,356.3 59.9,352.6 60.1,350.8 60.2,351.6 60.4,353.1 60.6,353.4 60.8,352.2 61.0,353.5 61.2,353.9 61.4,348.1 61.6,349.6 61.8,348.6 62.0,350.7 62.1,353.5 62.3,351.7 62.5,348.0 62.7,349.5 62.9,352.2 63.1,348.8 63.3,349.7 63.5,350.4 63.7,345.8 63.9,351.3 64.0,350.2 64.2,350.6 64.4,347.2 64.6,347.6 64.8,347.8 65.0,349.6 65.2,349.1 65.4,349.1 65.6,352.6 65.8,351.5 65.9,347.0 66.1,347.0 66.3,352.1 66.5,347.6 66.7,351.2 66.9,351.5 67.1,346.8 67.3,347.3 67.5,347.9 67.7,345.8 67.8,345.4 68.0,346.6 68.2,349.2 68.4,346.3 68.6,346.7 68.8,346.0 69.0,343.9 69.2,350.2 69.4,341.6 69.6,345.2 69.7,347.8 69.9,343.4 70.1,347.7 70.3,349.1 70.5,344.3 70.7,346.6 70.9,343.5 71.1,347.0 71.3,346.0 71.5,346.2 71.6,348.7 71.8,346.6 72.0,348.5 72.2,346.8 72.4,342.5 72.6,345.7 72.8,346.2 73.0,341.7 73.2,347.9 73.4,344.9 73.5,345.5 73.7,342.5 73.9,344.6 74.1,345.1 74.3,343.5 74.5,344.4 74.7,339.2 74.9,347.1 75.1,341.3 75.3,338.8 75.4,341.5 75.6,341.7 75.8,344.8 76.0,341.3 76.2,344.0 76.4,341.0 76.6,348.2 76.8,344.3 77.0,347.5 77.2,340.5 77.3,344.3 77.5,340.4 77.7,343.9 77.9,344.0 78.1,338.6 78.3,339.5 78.5,339.4 78.7,338.5 78.9,340.2 79.1,339.5 79.2,338.3 79.4,341.8 79.6,342.8 79.8,338.3 80.0,340.0 80.2,341.2 80.4,340.5 80.6,339.3 80.8,342.8 81.0,342.8 81.1,342.3 81.3,340.1 81.5,345.2 81.7,344.5 81.9,339.3 82.1,339.9 82.3,342.9 82.5,338.0 82.7,340.8 82.9,339.8 83.0,337.9 83.2,339.0 83.4,335.6 83.6,338.0 83.8,334.3 84.0,344.6 84.2,342.6 84.4,341.8 84.6,339.5 84.8,341.0 84.9,341.6 85.1,340.8 85.3,340.5 85.5,335.9 85.7,339.0 85.9,336.5 86.1,334.8 86.3,334.7 86.5,338.5 86.7,339.9 86.8,333.7 87.0,341.3 87.2,340.5 87.4,335.7 87.6,335.3 87.8,336.1 88.0,338.6 88.2,335.0 88.4,333.0 88.6,336.5 88.7,330.2 88.9,335.5 89.1,337.9 89.3,335.6 89.5,336.6 89.7,335.6 89.9,336.0 90.1,334.3 90.3,331.6 90.5,332.9 90.6,333.0 90.8,336.3 91.0,337.0 91.2,333.6 91.4,330.3 91.6,330.2 91.8,331.3 92.0,335.2 92.2,332.2 92.4,331.0 92.5,328.8 92.7,333.0 92.9,331.2 93.1,330.0 93.3,330.2 93.5,334.2 93.7,329.0 93.9,333.8 94.1,332.4 94.3,328.9 94.4,331.0 94.6,328.0 94.8,325.9 95.0,327.2 95.2,325.2 95.4,328.9 95.6,327.3 95.8,328.6 96.0,329.1 96.2,318.1 96.3,327.3 96.5,321.2 96.7,326.5 96.9,323.3 97.1,325.8 97.3,329.1 97.5,320.3 97.7,325.4 97.9,324.4 98.1,319.1 98.2,326.0 98.4,324.0 98.6,322.3 98.8,321.4 99.0,332.4 99.2,321.9 99.4,317.6 99.6,319.9 99.8,321.3 100.0,321.0 100.1,321.7 100.3,318.7 100.5,323.1 100.7,319.9 100.9,317.2 101.1,318.6 101.3,319.6 101.5,323.1 101.7,321.8 101.9,319.2 102.0,320.1 102.2,320.6 102.4,325.8 102.6,317.8 102.8,320.9 103.0,321.5 103.2,316.5 103.4,319.7 103.6,319.6 103.8,317.6 103.9,320.6 104.1,321.9 104.3,322.1 104.5,318.1 104.7,319.2 104.9,325.6 105.1,315.2 105.3,319.1 105.5,321.0 105.7,318.7 105.8,320.2 106.0,318.7 106.2,320.3 106.4,321.9 106.6,317.3 106.8,318.5 107.0,317.7 107.2,316.6 107.4,317.7 107.6,314.3 107.7,319.9 107.9,322.7 108.1,322.7 108.3,321.4 108.5,314.6 108.7,322.0 108.9,315.3 109.1,317.2 109.3,322.9 109.5,314.1 109.6,319.9 109.8,318.2 110.0,316.9 110.2,314.7 110.4,318.6 110.6,315.9 110.8,320.4 111.0,321.0 111.2,313.2 111.4,315.8 111.5,316.4 111.7,313.9 111.9,314.1 112.1,317.8 112.3,316.9 112.5,312.6 112.7,316.0 112.9,319.2 113.1,314.1 113.3,315.0 113.4,322.6 113.6,321.9 113.8,313.2 114.0,314.1 114.2,319.3 114.4,314.7 114.6,317.6 114.8,317.1 115.0,320.2 115.2,311.1 115.3,312.2 115.5,315.2 115.7,321.9 115.9,318.5 116.1,314.0 116.3,320.6 116.5,321.4 116.7,318.7 116.9,318.5 117.1,320.9 117.2,323.3 117.4,320.4 117.6,321.7 117.8,320.2 118.0,319.5 118.2,318.2 118.4,321.9 118.6,320.5 118.8,321.0 119.0,324.7 119.1,323.7 119.3,325.1 119.5,318.4 119.7,324.8 119.9,321.9 120.1,321.6 120.3,321.8 120.5,328.0 120.7,327.2 120.9,323.2 121.0,322.4 121.2,325.9 121.4,324.9 121.6,331.0 121.8,322.7 122.0,322.0 122.2,326.6 122.4,327.6 122.6,328.2 122.8,330.1 122.9,333.9 123.1,327.5 123.3,327.2 123.5,324.1 123.7,329.6 123.9,331.4 124.1,328.6 124.3,332.6 124.5,329.6 124.7,333.7 124.8,330.7 125.0,327.1 125.2,328.4 125.4,326.1 125.6,325.7 125.8,331.1 126.0,332.9 126.2,335.9 126.4,330.6 126.6,330.3 126.7,328.1 126.9,333.7 127.1,332.2 127.3,329.8 127.5,333.2 127.7,333.0 127.9,326.7 128.1,333.7 128.3,332.2 128.5,330.9 128.6,330.9 128.8,336.7 129.0,336.2 129.2,337.1 129.4,329.4 129.6,330.8 129.8,334.9 130.0,329.6 130.2,330.9 130.4,328.2 130.5,337.8 130.7,335.8 130.9,334.4 131.1,333.9 131.3,332.3 131.5,332.5 131.7,335.2 131.9,331.9 132.1,337.0 132.3,332.7 132.4,331.8 132.6,337.5 132.8,333.9 133.0,335.8 133.2,333.4 133.4,328.8 133.6,336.0 133.8,331.3 134.0,337.5 134.2,330.9 134.3,330.2 134.5,335.7 134.7,336.0 134.9,335.3 135.1,331.9 135.3,337.2 135.5,331.3 135.7,333.8 135.9,332.9 136.1,333.9 136.2,337.0 136.4,333.2 136.6,336.2 136.8,336.4 137.0,330.2 137.2,331.5 137.4,333.4 137.6,332.8 137.8,335.0 138.0,329.1 138.1,335.8 138.3,335.8 138.5,333.3 138.7,330.0 138.9,333.5 139.1,331.9 139.3,334.6 139.5,332.8 139.7,334.8 139.9,331.6 140.0,335.7 140.2,327.5 140.4,330.1 140.6,333.2 140.8,328.7 141.0,333.4 141.2,329.0 141.4,331.7 141.6,329.4 141.8,330.2 141.9,331.4 142.1,330.7 142.3,329.9 142.5,335.2 142.7,330.4 142.9,328.1 143.1,332.0 143.3,331.6 143.5,332.3 143.7,333.3 143.8,327.2 144.0,331.4 144.2,331.3 144.4,328.6 144.6,328.9 144.8,321.6 145.0,326.7 145.2,331.6 145.4,323.6 145.6,326.1 145.7,327.6 145.9,328.0 146.1,330.1 146.3,322.4 146.5,326.1 146.7,327.7 146.9,322.6 147.1,325.2 147.3,329.1 147.5,327.6 147.6,325.7 147.8,318.4 148.0,323.7 148.2,324.5 148.4,322.7 148.6,323.0 148.8,329.7 149.0,322.1 149.2,320.2 149.4,322.6 149.5,321.0 149.7,320.7 149.9,320.9 150.1,322.5 150.3,321.0 150.5,317.4 150.7,319.5 150.9,320.5 151.1,318.1 151.3,321.3 151.4,320.1 151.6,315.8 151.8,318.4 152.0,321.8 152.2,320.5 152.4,316.5 152.6,318.3 152.8,314.4 153.0,312.3 153.2,316.5 153.3,315.5 153.5,315.7 153.7,314.2 153.9,314.6 154.1,312.4 154.3,314.3 154.5,314.8 154.7,312.5 154.9,314.2 155.1,308.0 155.2,309.9 155.4,314.7 155.6,315.2 155.8,311.4 156.0,310.3 156.2,307.3 156.4,310.7 156.6,311.3 156.8,305.8 157.0,310.2 157.1,309.7 157.3,309.3 157.5,305.5 157.7,309.1 157.9,304.2 158.1,310.9 158.3,307.6 158.5,304.6 158.7,310.3 158.9,309.9 159.0,306.0 159.2,312.9 159.4,306.0 159.6,309.6 159.8,312.3 160.0,305.1 160.2,313.5 160.4,312.0 160.6,313.0 160.8,311.6 160.9,315.7 161.1,313.5 161.3,314.8 161.5,316.9 161.7,316.0 161.9,323.1 162.1,317.4 162.3,319.4 162.5,321.2 162.7,322.7 162.8,325.2 163.0,326.1 163.2,324.4 163.4,325.1 163.6,326.8 163.8,329.3 164.0,329.8 164.2,328.0 164.4,325.4 164.6,335.3 164.7,333.5 164.9,332.8 165.1,333.7 165.3,332.5 165.5,332.2 165.7,334.3 165.9,335.2 166.1,335.1 166.3,334.0 166.5,337.1 166.6,339.7 166.8,338.1 167.0,339.8 167.2,336.1 167.4,340.6 167.6,341.4 167.8,339.7 168.0,339.2 168.2,344.2 168.4,342.2 168.5,345.4 168.7,344.0 168.9,346.6 169.1,345.0 169.3,343.0 169.5,346.4 169.7,346.3 169.9,348.7 170.1,346.9 170.3,347.4 170.4,350.3 170.6,351.3 170.8,350.9 171.0,351.8 171.2,351.0 171.4,352.0 171.6,352.5 171.8,351.9 172.0,351.5 172.2,351.9 172.3,356.8 172.5,352.2 172.7,352.0 172.9,352.0 173.1,352.9 173.3,353.6 173.5,351.1 173.7,349.5 173.9,354.3 174.1,350.6 174.2,354.5 174.4,354.4 174.6,356.5 174.8,357.7 175.0,355.2 175.2,353.5 175.4,352.4 175.6,353.2 175.8,355.0 176.0,350.9 176.1,355.3 176.3,355.2 176.5,356.6 176.7,354.7 176.9,355.7 177.1,354.1 177.3,354.7 177.5,352.2 177.7,356.1 177.9,359.0 178.0,356.3 178.2,356.8 178.4,354.2 178.6,359.1 178.8,354.7 179.0,358.0 179.2,356.6 179.4,354.6 179.6,358.6 179.8,356.7 179.9,357.1 180.1,357.7 180.3,356.8 180.5,356.2 180.7,358.0 180.9,356.3 181.1,357.3 181.3,356.0 181.5,354.4 181.7,356.1 181.8,356.6 182.0,357.7 182.2,360.1 182.4,354.5 182.6,358.2 182.8,353.6 183.0,356.0 183.2,357.2 183.4,353.8 183.6,354.7 183.7,358.8 183.9,358.7 184.1,358.4 184.3,357.1 184.5,363.1 184.7,358.6 184.9,357.2 185.1,362.4 185.3,360.4 185.5,358.5 185.6,361.7 185.8,359.7 186.0,360.7 186.2,360.0 186.4,357.5 186.6,361.6 186.8,360.0 187.0,357.7 187.2,358.3 187.4,361.8 187.5,359.2 187.7,360.1 187.9,361.3 188.1,360.3 188.3,357.0 188.5,361.4 188.7,362.0 188.9,361.9 189.1,363.4 189.3,361.0 189.4,361.8 189.6,363.5 189.8,359.7 190.0,363.8 190.2,363.8 190.4,361.9 190.6,364.1 190.8,362.1 191.0,358.6 191.2,362.7 191.3,361.1 191.5,361.3 191.7,360.8 191.9,363.2 192.1,361.6 192.3,359.1 192.5,361.5 192.7,362.0 192.9,359.1 193.1,359.7 193.2,359.9 193.4,359.4 193.6,361.3 193.8,362.7 194.0,364.5 194.2,363.1 194.4,362.8 194.6,363.0 194.8,363.4 195.0,360.0 195.1,362.2 195.3,361.4 195.5,360.5 195.7,359.9 195.9,359.8 196.1,360.3 196.3,358.4 196.5,361.9 196.7,360.8 196.9,361.1 197.0,361.6 197.2,362.4 197.4,359.7 197.6,360.7 197.8,357.7 198.0,356.5 198.2,357.1 198.4,364.1 198.6,357.3 198.8,361.9 198.9,364.0 199.1,360.1 199.3,364.3 199.5,364.7 199.7,362.9 199.9,365.8 200.1,362.3 200.3,359.6 200.5,362.1 200.7,360.2 200.8,358.5 201.0,358.6 201.2,365.8 201.4,360.1 201.6,361.1 201.8,359.8 202.0,361.4 202.2,360.7 202.4,360.4 202.6,358.8 202.7,358.4 202.9,359.7 203.1,361.8 203.3,365.4 203.5,363.4 203.7,364.9 203.9,362.2 204.1,361.1 204.3,358.6 204.5,361.3 204.6,357.0 204.8,360.7 205.0,364.6 205.2,362.0 205.4,363.6 205.6,360.6 205.8,358.6 206.0,360.4 206.2,360.6 206.4,363.8 206.5,365.3 206.7,359.9 206.9,360.7 207.1,361.1 207.3,360.7 207.5,358.9 207.7,361.6 207.9,362.2 208.1,362.2 208.3,359.0 208.4,361.2 208.6,358.0 208.8,363.3 209.0,359.4 209.2,360.9 209.4,360.6 209.6,360.3 209.8,359.4 210.0,358.0 210.2,365.0 210.3,362.0 210.5,362.1 210.7,365.7 210.9,361.4 211.1,362.7 211.3,361.6 211.5,364.0 211.7,362.6 211.9,362.2 212.1,361.1 212.2,362.2 212.4,363.9 212.6,357.5 212.8,361.4 213.0,360.8 213.2,361.0 213.4,357.7 213.6,363.1 213.8,360.0 214.0,361.2 214.1,360.7 214.3,358.3 214.5,360.8 214.7,358.0 214.9,359.8 215.1,361.1 215.3,361.7 215.5,361.8 215.7,361.5 215.9,366.0 216.0,362.6 216.2,359.3 216.4,360.5 216.6,360.5 216.8,361.4 217.0,360.6 217.2,360.1 217.4,365.1 217.6,361.9 217.8,361.1 217.9,361.3 218.1,361.4 218.3,364.6 218.5,362.8 218.7,364.1 218.9,355.6 219.1,362.5 219.3,364.0 219.5,365.8 219.7,361.9 219.8,358.5 220.0,363.1 220.2,360.7 220.4,358.3 220.6,360.7 220.8,364.0 221.0,364.3 221.2,363.4 221.4,359.9 221.6,367.0 221.7,359.6 221.9,361.8 222.1,359.1 222.3,364.6 222.5,362.9 222.7,363.8 222.9,362.2 223.1,361.9 223.3,362.4 223.5,358.2 223.6,364.0 223.8,363.9 224.0,361.3 224.2,362.0 224.4,362.7 224.6,365.2 224.8,362.9 225.0,362.2 225.2,361.1 225.4,359.1 225.5,360.9 225.7,362.2 225.9,361.6 226.1,362.3 226.3,363.6 226.5,363.0 226.7,362.7 226.9,363.5 227.1,362.5 227.3,362.1 227.4,363.1 227.6,358.7 227.8,364.7 228.0,359.6 228.2,363.9 228.4,362.2 228.6,364.4 228.8,362.3 229.0,360.3 229.2,364.4 229.3,362.6 229.5,362.5 229.7,362.4 229.9,364.2 230.1,363.9 230.3,362.7 230.5,359.1 230.7,361.4 230.9,362.5 231.1,365.9 231.2,363.0 231.4,362.1 231.6,364.7 231.8,362.1 232.0,362.2 232.2,362.6 232.4,359.3 232.6,364.2 232.8,363.2 233.0,361.7 233.1,360.0 233.3,362.7 233.5,365.1 233.7,361.0 233.9,360.2 234.1,363.2 234.3,359.1 234.5,357.9 234.7,361.5 234.9,361.0 235.0,361.8 235.2,361.3 235.4,363.0 235.6,361.9 235.8,361.2 236.0,361.5 236.2,363.6 236.4,364.3 236.6,364.2 236.8,363.8 236.9,355.8 237.1,360.4 237.3,361.8 237.5,362.8 237.7,359.2 237.9,365.2 238.1,363.0 238.3,361.2 238.5,362.7 238.7,361.7 238.8,360.9 239.0,363.4 239.2,361.5 239.4,359.6 239.6,361.1 239.8,362.2 240.0,360.3 240.2,364.9 240.4,360.2 240.6,365.9 240.7,364.2 240.9,360.5 241.1,362.7 241.3,364.8 241.5,362.0 241.7,360.0 241.9,362.7 242.1,366.4 242.3,359.4 242.5,363.5 242.6,362.4 242.8,362.2 243.0,361.6 243.2,361.8 243.4,364.5 243.6,363.6 243.8,360.4 244.0,365.5 244.2,359.8 244.4,363.8 244.5,362.8 244.7,364.8 244.9,363.1 245.1,364.5 245.3,362.4 245.5,364.4 245.7,363.1 245.9,366.7 246.1,361.0 246.3,364.8 246.4,363.3 246.6,362.8 246.8,361.3 247.0,363.3 247.2,359.5 247.4,359.7 247.6,363.8 247.8,359.3 248.0,365.3 248.2,361.8 248.3,362.9 248.5,362.5 248.7,363.2 248.9,361.8 249.1,361.6 249.3,362.1 249.5,364.5 249.7,364.6 249.9,364.9 250.1,363.1 250.2,361.9 250.4,359.0 250.6,363.6 250.8,364.0 251.0,361.5 251.2,363.9 251.4,364.9 251.6,362.5 251.8,364.4 252.0,362.9 252.1,358.8 252.3,361.3 252.5,361.5 252.7,363.3 252.9,360.5 253.1,361.4 253.3,360.3 253.5,362.2 253.7,362.4 253.9,364.2 254.0,363.8 254.2,362.6 254.4,362.7 254.6,362.4 254.8,362.4 255.0,365.3 255.2,357.2 255.4,361.8 255.6,362.8 255.8,364.4 255.9,360.0 256.1,362.9 256.3,363.9 256.5,361.3 256.7,358.3 256.9,361.4 257.1,359.7 257.3,363.4 257.5,360.4 257.7,365.7 257.8,362.4 258.0,360.5 258.2,361.1 258.4,359.9 258.6,362.9 258.8,365.1 259.0,361.6 259.2,363.9 259.4,360.2 259.6,362.7 259.7,366.7 259.9,359.2 260.1,364.5 260.3,364.4 260.5,358.3 260.7,359.1 260.9,360.1 261.1,363.9 261.3,361.1 261.5,361.7 261.6,363.4 261.8,362.2 262.0,362.4 262.2,361.3 262.4,364.2 262.6,360.4 262.8,365.3 263.0,361.3 263.2,360.3 263.4,363.2 263.5,362.8 263.7,357.9 263.9,362.3 264.1,359.2 264.3,360.2 264.5,363.5 264.7,360.1 264.9,362.6 265.1,361.1 265.3,365.7 265.4,361.7 265.6,359.5 265.8,359.6 266.0,360.0 266.2,362.1 266.4,361.8 266.6,363.7 266.8,362.1 267.0,362.0 267.2,362.4 267.3,361.5 267.5,362.4 267.7,363.3 267.9,363.3 268.1,360.7 268.3,358.2 268.5,360.1 268.7,362.3 268.9,356.7 269.1,360.8 269.2,362.6 269.4,360.6 269.6,359.5 269.8,365.2 270.0,364.5 270.2,361.2 270.4,364.3 270.6,364.3 270.8,359.4 271.0,367.0 271.1,359.8 271.3,361.1 271.5,359.5 271.7,361.8 271.9,359.0 272.1,361.6 272.3,363.8 272.5,362.0 272.7,361.1 272.9,364.7 273.0,359.8 273.2,363.5 273.4,361.0 273.6,362.0 273.8,361.6 274.0,361.8 274.2,361.5 274.4,360.0 274.6,360.4 274.8,362.4 274.9,361.3 275.1,359.2 275.3,360.1 275.5,360.2 275.7,361.4 275.9,361.9 276.1,361.7 276.3,360.2 276.5,361.6 276.7,358.8 276.8,355.7 277.0,361.4 277.2,358.2 277.4,359.6 277.6,359.1 277.8,362.7 278.0,359.1 278.2,362.0 278.4,360.5 278.6,359.0 278.7,358.3 278.9,362.4 279.1,362.2 279.3,363.0 279.5,365.1 279.7,362.0 279.9,362.0 280.1,361.2 280.3,361.6 280.5,360.7 280.6,359.6 280.8,365.4 281.0,357.7 281.2,361.9 281.4,362.3 281.6,361.7 281.8,359.5 282.0,361.0 282.2,360.5 282.4,359.2 282.5,361.3 282.7,360.5 282.9,360.3 283.1,362.7 283.3,359.2 283.5,362.2 283.7,360.1 283.9,362.2 284.1,361.5 284.3,361.8 284.4,359.4 284.6,359.8 284.8,359.6 285.0,361.7 285.2,362.8 285.4,363.5 285.6,360.3 285.8,361.5 286.0,358.1 286.2,356.9 286.3,359.6 286.5,359.9 286.7,358.2 286.9,357.7 287.1,362.3 287.3,359.7 287.5,357.9 287.7,365.9 287.9,361.6 288.1,360.6 288.2,362.6 288.4,359.7 288.6,364.4 288.8,358.2 289.0,358.6 289.2,360.9 289.4,359.7 289.6,364.0 289.8,358.0 290.0,359.7 290.1,361.7 290.3,362.3 290.5,363.2 290.7,361.9 290.9,365.6 291.1,360.2 291.3,361.5 291.5,362.9 291.7,360.5 291.9,360.6 292.0,360.2 292.2,359.9 292.4,358.9 292.6,360.0 292.8,358.0 293.0,361.9 293.2,358.0 293.4,365.2 293.6,364.5 293.8,363.3 293.9,360.7 294.1,359.9 294.3,363.5 294.5,361.5 294.7,362.2 294.9,359.7 295.1,363.2 295.3,359.5 295.5,361.3 295.7,357.6 295.8,359.8 296.0,362.1 296.2,360.2 296.4,360.2 296.6,362.6 296.8,360.9 297.0,363.5 297.2,356.2 297.4,362.2 297.6,362.0 297.7,357.9 297.9,358.4 298.1,362.8 298.3,358.9 298.5,359.7 298.7,362.2 298.9,360.3 299.1,361.9 299.3,359.3 299.5,361.6 299.6,363.1 299.8,361.6 300.0,356.6 300.2,362.3 300.4,361.1 300.6,359.2 300.8,363.7 301.0,357.5 301.2,364.7 301.4,359.7 301.5,364.1 301.7,360.8 301.9,358.3 302.1,361.1 302.3,361.6 302.5,362.0 302.7,363.0 302.9,359.1 303.1,361.9 303.3,362.4 303.4,360.4 303.6,359.0 303.8,359.0 304.0,362.4 304.2,362.5 304.4,359.2 304.6,358.2 304.8,363.3 305.0,357.8 305.2,361.2 305.3,359.2 305.5,357.3 305.7,361.1 305.9,360.4 306.1,363.7 306.3,365.3 306.5,360.4 306.7,362.8 306.9,362.9 307.1,359.7 307.2,359.0 307.4,363.9 307.6,360.0 307.8,360.7 308.0,360.1 308.2,360.4 308.4,359.5 308.6,362.2 308.8,363.2 309.0,359.9 309.1,357.9 309.3,360.7 309.5,357.7 309.7,359.3 309.9,363.1 310.1,365.2 310.3,361.3 310.5,358.4 310.7,362.1 310.9,356.1 311.0,359.1 311.2,363.6 311.4,362.0 311.6,357.7 311.8,357.2 312.0,362.2 312.2,360.4 312.4,359.3 312.6,361.2 312.8,359.3 312.9,356.6 313.1,362.0 313.3,359.1 313.5,358.4 313.7,357.7 313.9,360.8 314.1,358.7 314.3,361.5 314.5,359.8 314.7,362.4 314.8,359.5 315.0,358.9 315.2,356.3 315.4,358.0 315.6,361.6 315.8,366.3 316.0,357.7 316.2,358.1 316.4,360.8 316.6,361.1 316.7,358.8 316.9,360.3 317.1,356.9 317.3,359.5 317.5,361.9 317.7,363.3 317.9,359.7 318.1,359.5 318.3,360.9 318.5,362.2 318.6,360.9 318.8,358.5 319.0,360.7 319.2,361.9 319.4,358.5 319.6,357.2 319.8,360.9 320.0,360.6 320.2,361.8 320.4,360.0 320.5,358.6 320.7,358.9 320.9,357.8 321.1,357.9 321.3,358.7 321.5,358.8 321.7,362.0 321.9,357.3 322.1,359.6 322.3,358.5 322.4,362.7 322.6,360.2 322.8,358.9 323.0,361.3 323.2,359.8 323.4,358.7 323.6,362.7 323.8,361.0 324.0,363.0 324.2,361.9 324.3,361.1 324.5,359.8 324.7,357.4 324.9,361.0 325.1,359.7 325.3,360.9 325.5,359.5 325.7,358.1 325.9,357.5 326.1,360.9 326.2,362.0 326.4,358.9 326.6,360.4 326.8,362.2 327.0,357.8 327.2,358.7 327.4,357.2 327.6,361.7 327.8,359.9 328.0,358.5 328.1,356.1 328.3,359.0 328.5,361.3 328.7,358.8 328.9,358.5 329.1,360.6 329.3,356.9 329.5,359.4 329.7,360.5 329.9,357.8 330.0,357.7 330.2,359.8 330.4,359.1 330.6,358.8 330.8,359.7 331.0,359.7 331.2,357.4 331.4,357.9 331.6,360.2 331.8,361.5 331.9,361.9 332.1,357.6 332.3,361.4 332.5,360.7 332.7,359.2 332.9,360.2 333.1,360.9 333.3,362.8 333.5,357.1 333.7,360.4 333.8,359.0 334.0,358.8 334.2,361.5 334.4,360.9 334.6,357.2 334.8,358.7 335.0,359.7 335.2,356.4 335.4,361.0 335.6,359.1 335.7,359.6 335.9,359.9 336.1,362.9 336.3,359.4 336.5,358.6 336.7,362.7 336.9,358.3 337.1,358.3 337.3,356.6 337.5,361.5 337.6,359.9 337.8,360.3 338.0,359.7 338.2,359.1 338.4,357.9 338.6,357.9 338.8,360.3 339.0,359.7 339.2,362.7 339.4,358.0 339.5,358.6 339.7,357.5 339.9,362.3 340.1,357.2 340.3,361.1 340.5,362.5 340.7,359.4 340.9,361.1 341.1,355.5 341.3,359.0 341.4,356.5 341.6,360.1 341.8,359.8 342.0,358.3 342.2,361.7 342.4,360.6 342.6,358.9 342.8,358.9 343.0,357.0 343.2,359.6 343.3,364.2 343.5,358.6 343.7,360.8 343.9,359.0 344.1,361.6 344.3,361.0 344.5,359.6 344.7,356.6 344.9,359.1 345.1,362.5 345.2,359.7 345.4,361.4 345.6,359.3 345.8,356.5 346.0,361.1 346.2,360.9 346.4,359.1 346.6,359.6 346.8,360.9 347.0,359.2 347.1,361.0 347.3,360.0 347.5,355.7 347.7,360.1 347.9,359.2 348.1,358.7 348.3,361.2 348.5,359.5 348.7,361.5 348.9,362.6 349.0,360.7 349.2,357.4 349.4,359.0 349.6,362.3 349.8,359.9 350.0,358.9 350.2,360.3 350.4,361.4 350.6,361.0 350.8,361.7 350.9,358.8 351.1,359.9 351.3,359.9 351.5,360.4 351.7,356.3 351.9,360.0 352.1,357.8 352.3,363.2 352.5,363.5 352.7,363.7 352.8,362.0 353.0,359.4 353.2,362.3 353.4,360.0 353.6,361.6 353.8,358.6 354.0,359.2 354.2,361.3 354.4,363.8 354.6,360.3 354.7,364.8 354.9,365.8 355.1,357.8 355.3,360.2 355.5,358.4 355.7,360.0 355.9,359.2 356.1,360.1 356.3,362.1 356.5,362.1 356.6,360.7 356.8,360.2 357.0,360.4 357.2,360.4 357.4,361.3 357.6,360.1 357.8,361.1 358.0,357.5 358.2,361.7 358.4,363.5 358.5,360.4 358.7,357.2 358.9,362.7 359.1,359.4 359.3,354.1 359.5,359.5 359.7,361.2 359.9,360.7 360.1,362.4 360.3,361.1 360.4,360.1 360.6,356.0 360.8,357.6 361.0,360.2 361.2,361.2 361.4,357.8 361.6,358.6 361.8,360.7 362.0,356.0 362.2,355.9 362.3,359.3 362.5,360.2 362.7,358.7 362.9,355.1 363.1,359.7 363.3,357.0 363.5,360.9 363.7,359.4 363.9,360.1 364.1,360.8 364.2,358.5 364.4,361.1 364.6,361.9 364.8,360.2 365.0,362.1 365.2,358.2 365.4,361.2 365.6,359.9 365.8,357.4 366.0,359.2 366.1,358.3 366.3,358.2 366.5,359.5 366.7,361.4 366.9,358.6 367.1,359.5 367.3,356.3 367.5,359.4 367.7,361.5 367.9,360.8 368.0,360.1 368.2,358.1 368.4,357.2 368.6,358.9 368.8,356.4 369.0,356.6 369.2,360.9 369.4,357.2 369.6,362.6 369.8,356.2 369.9,359.8 370.1,356.6 370.3,359.3 370.5,356.9 370.7,359.0 370.9,358.6 371.1,358.0 371.3,359.9 371.5,361.8 371.7,357.7 371.8,360.6 372.0,359.0 372.2,358.7 372.4,363.1 372.6,354.5 372.8,357.4 373.0,355.2 373.2,358.1 373.4,358.3 373.6,366.3 373.7,359.4 373.9,362.3 374.1,361.3 374.3,357.8 374.5,359.6 374.7,361.9 374.9,359.0 375.1,359.0 375.3,359.6 375.5,355.6 375.6,357.0 375.8,359.2 376.0,359.6 376.2,356.7 376.4,357.9 376.6,358.3 376.8,358.2 377.0,359.8 377.2,358.7 377.4,358.8 377.5,355.6 377.7,356.3 377.9,359.0 378.1,355.2 378.3,358.9 378.5,357.0 378.7,356.7 378.9,359.6 379.1,357.0 379.3,356.6 379.4,356.9 379.6,358.4 379.8,363.7 380.0,354.0 380.2,358.2 380.4,357.7 380.6,360.1 380.8,357.5 381.0,353.3 381.2,360.8 381.3,356.0 381.5,358.0 381.7,355.4 381.9,355.9 382.1,357.1 382.3,359.8 382.5,359.7 382.7,356.9 382.9,359.0 383.1,357.3 383.2,358.3 383.4,358.3 383.6,359.2 383.8,356.8 384.0,357.7 384.2,358.4 384.4,358.1 384.6,356.4 384.8,361.4 385.0,357.0 385.1,359.4 385.3,358.3 385.5,360.3 385.7,353.6 385.9,362.0 386.1,357.5 386.3,355.4 386.5,358.1 386.7,362.4 386.9,358.9 387.0,355.4 387.2,356.9 387.4,360.5 387.6,355.1 387.8,357.5 388.0,357.3 388.2,362.2 388.4,357.3 388.6,360.5 388.8,356.5 388.9,356.2 389.1,359.8 389.3,359.1 389.5,354.4 389.7,359.1 389.9,359.1 390.1,356.6 390.3,358.3 390.5,358.4 390.7,356.9 390.8,356.7 391.0,356.5 391.2,357.3 391.4,355.2 391.6,357.8 391.8,354.9 392.0,358.0 392.2,357.7 392.4,355.8 392.6,359.6 392.7,361.7 392.9,360.5 393.1,355.2 393.3,360.4 393.5,358.3 393.7,357.8 393.9,356.7 394.1,357.9 394.3,360.6 394.5,359.0 394.6,357.1 394.8,356.6 395.0,357.1 395.2,359.1 395.4,361.6 395.6,355.8 395.8,357.9 396.0,357.2 396.2,356.4 396.4,358.7 396.5,359.0 396.7,355.1 396.9,355.9 397.1,360.3 397.3,358.6 397.5,359.0 397.7,357.0 397.9,357.2 398.1,358.9 398.3,357.0 398.4,355.8 398.6,358.0 398.8,359.8 399.0,356.0 399.2,360.1 399.4,359.4 399.6,356.3 399.8,358.0 400.0,357.9 400.2,359.3 400.3,359.4 400.5,355.5 400.7,355.4 400.9,360.1 401.1,358.3 401.3,358.9 401.5,358.8 401.7,361.2 401.9,355.8 402.1,360.3 402.2,356.6 402.4,359.7 402.6,360.9 402.8,355.5 403.0,359.1 403.2,357.8 403.4,357.8 403.6,358.5 403.8,356.3 404.0,356.5 404.1,359.8 404.3,360.2 404.5,357.4 404.7,355.7 404.9,363.2 405.1,360.8 405.3,359.4 405.5,356.7 405.7,357.6 405.9,359.3 406.0,356.9 406.2,362.0 406.4,359.2 406.6,359.7 406.8,357.0 407.0,357.2 407.2,357.5 407.4,359.6 407.6,358.6 407.8,358.6 407.9,359.8 408.1,359.7 408.3,362.2 408.5,358.9 408.7,357.4 408.9,359.4 409.1,362.3 409.3,358.4 409.5,359.6 409.7,358.8 409.8,360.4 410.0,360.1 410.2,358.1 410.4,359.2 410.6,361.6 410.8,361.9 411.0,361.6 411.2,361.5 411.4,359.2 411.6,359.2 411.7,361.7 411.9,357.6 412.1,359.8 412.3,356.3 412.5,359.3 412.7,358.6 412.9,357.7 413.1,361.2 413.3,358.7 413.5,359.4 413.6,359.7 413.8,358.7 414.0,363.0 414.2,359.3 414.4,360.6 414.6,357.7 414.8,359.4 415.0,359.7 415.2,359.8 415.4,359.2 415.5,360.7 415.7,363.5 415.9,360.2 416.1,360.2 416.3,359.7 416.5,365.5 416.7,363.7 416.9,361.7 417.1,362.0 417.3,359.2 417.4,360.4 417.6,361.1 417.8,360.9 418.0,359.1 418.2,359.2 418.4,361.8 418.6,361.4 418.8,356.7 419.0,361.0 419.2,363.4 419.3,359.6 419.5,361.4 419.7,358.1 419.9,362.6 420.1,358.8 420.3,358.6 420.5,360.4 420.7,365.7 420.9,359.9 421.1,358.6 421.2,362.1 421.4,361.6 421.6,364.4 421.8,358.7 422.0,358.1 422.2,360.6 422.4,362.0 422.6,362.0 422.8,363.5 423.0,358.4 423.1,359.8 423.3,361.1 423.5,363.1 423.7,362.4 423.9,360.6 424.1,359.5 424.3,363.3 424.5,363.4 424.7,366.9 424.9,361.2 425.0,364.8 425.2,359.3 425.4,360.6 425.6,360.4 425.8,360.8 426.0,360.0 426.2,360.7 426.4,361.7 426.6,360.9 426.8,363.1 426.9,361.7 427.1,361.8 427.3,364.8 427.5,362.5 427.7,362.2 427.9,361.9 428.1,362.1 428.3,363.1 428.5,360.4 428.7,364.3 428.8,365.1 429.0,364.3 429.2,361.1 429.4,359.0 429.6,361.3 429.8,362.4 430.0,363.8 430.2,361.8 430.4,361.6 430.6,365.2 430.7,360.9 430.9,364.4 431.1,364.1 431.3,359.7 431.5,362.9 431.7,361.3 431.9,360.5 432.1,358.8 432.3,359.3 432.5,363.2 432.6,361.7 432.8,363.0 433.0,360.4 433.2,361.9 433.4,362.0 433.6,359.5 433.8,359.3 434.0,363.4 434.2,362.9 434.4,360.8 434.5,362.4 434.7,363.9 434.9,366.3 435.1,360.9 435.3,363.9 435.5,366.9 435.7,362.9 435.9,365.6 436.1,357.7 436.3,365.6 436.4,362.8 436.6,359.1 436.8,364.4 437.0,364.9 437.2,365.2 437.4,365.2 437.6,362.8 437.8,361.5 438.0,362.0 438.2,362.9 438.3,363.8 438.5,362.0 438.7,363.1 438.9,364.7 439.1,363.7 439.3,367.5 439.5,367.3 439.7,360.8 439.9,362.0 440.1,360.5 440.2,360.8 440.4,364.2 440.6,361.2 440.8,361.1 441.0,362.7 441.2,364.8 441.4,362.5 441.6,362.5 441.8,365.1 442.0,364.2 442.1,364.2 442.3,365.2 442.5,361.3 442.7,363.7 442.9,362.1 443.1,365.4 443.3,365.0 443.5,361.3 443.7,366.0 443.9,361.1 444.0,365.7 444.2,363.8 444.4,361.7 444.6,361.3 444.8,362.9 445.0,363.4 445.2,362.1 445.4,364.6 445.6,360.8 445.8,363.5 445.9,363.6 446.1,359.9 446.3,364.2 446.5,361.1 446.7,358.7 446.9,362.4 447.1,363.2 447.3,365.4 447.5,362.7 447.7,366.6 447.8,366.5 448.0,365.9 448.2,366.3 448.4,364.4 448.6,362.6 448.8,365.0 449.0,365.7 449.2,364.2 449.4,363.3 449.6,360.7 449.7,365.1 449.9,364.5 450.1,361.3 450.3,364.0 450.5,365.3 450.7,363.7 450.9,365.4 451.1,365.4 451.3,361.0 451.5,363.3 451.6,364.9 451.8,365.8 452.0,366.7 452.2,360.2 452.4,363.9 452.6,365.4 452.8,366.4 453.0,367.4 453.2,362.2 453.4,363.3 453.5,362.0 453.7,365.7 453.9,361.5 454.1,366.4 454.3,366.0 454.5,365.1 454.7,359.8 454.9,362.8 455.1,365.6 455.3,361.4 455.4,363.7 455.6,364.0 455.8,366.0 456.0,364.8 456.2,364.8 456.4,363.4 456.6,364.3 456.8,364.0 457.0,365.7 457.2,363.9 457.3,366.3 457.5,360.9 457.7,366.7 457.9,364.0 458.1,366.6 458.3,364.5 458.5,366.0 458.7,367.3 458.9,363.3 459.1,364.5 459.2,364.1 459.4,364.8 459.6,361.2 459.8,364.1 460.0,364.0 460.2,362.9 460.4,364.1 460.6,361.4 460.8,367.3 461.0,365.4 461.1,368.2 461.3,362.8 461.5,362.2 461.7,365.1 461.9,361.3 462.1,365.0 462.3,363.2 462.5,363.9 462.7,365.1 462.9,364.7 463.0,368.3 463.2,365.9 463.4,362.1 463.6,366.6 463.8,362.0 464.0,364.9 464.2,362.2 464.4,363.1 464.6,367.3 464.8,363.6 464.9,363.5 465.1,363.6 465.3,364.1 465.5,367.6 465.7,362.5 465.9,362.4 466.1,366.0 466.3,361.7 466.5,364.1 466.7,367.1 466.8,364.9 467.0,363.9 467.2,363.5 467.4,363.1 467.6,363.7 467.8,365.2 468.0,367.4 468.2,366.8 468.4,363.8 468.6,363.5 468.7,366.3 468.9,361.4 469.1,364.1 469.3,364.4 469.5,362.8 469.7,363.1 469.9,365.7 470.1,361.8 470.3,363.2 470.5,363.8 470.6,365.2 470.8,362.4 471.0,367.2 471.2,364.5 471.4,364.6 471.6,364.4 471.8,363.8 472.0,363.2 472.2,367.4 472.4,365.6 472.5,365.0 472.7,367.2 472.9,363.8 473.1,366.5 473.3,365.3 473.5,363.5 473.7,366.8 473.9,362.3 474.1,366.6 474.3,363.6 474.4,366.1 474.6,368.1 474.8,366.5 475.0,364.2 475.2,365.3 475.4,364.7 475.6,363.1 475.8,363.2 476.0,365.5 476.2,366.5 476.3,362.0 476.5,365.3 476.7,366.5 476.9,365.7 477.1,363.5 477.3,367.6 477.5,363.2 477.7,366.8 477.9,368.7 478.1,361.6 478.2,366.1 478.4,366.2 478.6,366.1 478.8,364.1 479.0,365.1 479.2,362.9 479.4,366.0 479.6,366.8 479.8,364.4 480.0,363.9 480.1,364.8 480.3,365.8 480.5,365.9 480.7,365.6 480.9,366.0 481.1,363.3 481.3,360.5 481.5,367.1 481.7,368.7 481.9,363.1 482.0,364.6 482.2,366.5 482.4,367.8 482.6,367.2 482.8,368.5 483.0,365.9 483.2,366.8 483.4,366.8 483.6,365.2 483.8,368.4 483.9,367.3 484.1,368.0 484.3,365.4 484.5,368.2 484.7,364.1 484.9,366.9 485.1,361.1 485.3,364.2 485.5,367.7 485.7,365.4 485.8,366.6 486.0,363.1 486.2,369.3 486.4,367.5 486.6,366.3 486.8,367.1 487.0,367.0 487.2,369.1 487.4,366.8 487.6,363.5 487.7,365.9 487.9,368.9 488.1,367.6 488.3,365.6 488.5,367.7 488.7,366.7 488.9,367.7 489.1,363.4 489.3,364.8 489.5,367.9 489.6,366.1 489.8,367.3 490.0,370.4 490.2,366.0 490.4,367.1 490.6,365.5 490.8,365.4 491.0,366.5 491.2,363.8 491.4,362.6 491.5,369.4 491.7,366.5 491.9,368.9 492.1,367.0 492.3,367.1 492.5,368.1 492.7,368.2 492.9,364.5 493.1,369.2 493.3,364.9 493.4,367.2 493.6,371.8 493.8,367.0 494.0,370.1 494.2,366.2 494.4,368.1 494.6,367.0 494.8,367.7 495.0,365.3 495.2,365.2 495.3,367.6 495.5,363.9 495.7,365.3 495.9,368.2 496.1,365.8 496.3,365.3 496.5,364.9 496.7,367.3 496.9,366.3 497.1,367.3 497.2,366.7 497.4,370.7 497.6,366.2 497.8,363.3 498.0,367.3 498.2,367.1 498.4,367.4 498.6,364.0 498.8,369.3 499.0,367.1 499.1,367.0 499.3,364.0 499.5,368.1 499.7,367.0 499.9,369.8 500.1,366.3 500.3,364.8 500.5,367.4 500.7,365.4 500.9,368.0 501.0,365.1 501.2,366.9 501.4,366.7 501.6,367.1 501.8,366.2 502.0,365.6 502.2,367.1 502.4,366.1 502.6,367.5 502.8,366.7 502.9,362.8 503.1,367.1 503.3,369.9 503.5,367.8 503.7,368.4 503.9,368.1 504.1,366.3 504.3,364.6 504.5,368.8 504.7,369.2 504.8,368.3 505.0,368.0 505.2,368.0 505.4,367.1 505.6,367.7 505.8,367.2 506.0,367.8 506.2,365.3 506.4,365.9 506.6,368.3 506.7,366.5 506.9,362.5 507.1,367.4 507.3,362.7 507.5,370.8 507.7,368.5 507.9,368.4 508.1,365.8 508.3,364.9 508.5,366.7 508.6,367.1 508.8,365.6 509.0,367.4 509.2,368.4 509.4,368.2 509.6,365.0 509.8,362.8 510.0,367.0 510.2,365.7 510.4,367.8 510.5,370.1 510.7,370.1 510.9,367.5 511.1,369.1 511.3,370.1 511.5,367.0 511.7,367.4 511.9,368.5 512.1,366.8 512.3,365.9 512.4,365.4 512.6,366.8 512.8,365.6 513.0,368.3 513.2,366.1 513.4,369.6 513.6,369.1 513.8,364.4 514.0,368.8 514.2,365.9 514.3,369.3 514.5,367.7 514.7,366.6 514.9,367.9 515.1,365.6 515.3,367.2 515.5,367.3 515.7,366.3 515.9,367.3 516.1,364.6 516.2,367.6 516.4,364.2 516.6,367.7 516.8,367.4 517.0,367.8 517.2,365.4 517.4,372.2 517.6,366.0 517.8,366.7 518.0,364.9" fill="none" stroke="#d00000" stroke-width="2" stroke-linejoin="round"/>
<line x1="46.00" y1="388" x2="46.00" y2="394" stroke="#000" stroke-width="1.6"/><line x1="93.20" y1="391" x2="93.20" y2="394" stroke="#000" stroke-width="1.6"/><line x1="140.40" y1="388" x2="140.40" y2="394" stroke="#000" stroke-width="1.6"/><line x1="187.60" y1="391" x2="187.60" y2="394" stroke="#000" stroke-width="1.6"/><line x1="234.80" y1="388" x2="234.80" y2="394" stroke="#000" stroke-width="1.6"/><line x1="282.00" y1="391" x2="282.00" y2="394" stroke="#000" stroke-width="1.6"/><line x1="329.20" y1="388" x2="329.20" y2="394" stroke="#000" stroke-width="1.6"/><line x1="376.40" y1="391" x2="376.40" y2="394" stroke="#000" stroke-width="1.6"/><line x1="423.60" y1="388" x2="423.60" y2="394" stroke="#000" stroke-width="1.6"/><line x1="470.80" y1="391" x2="470.80" y2="394" stroke="#000" stroke-width="1.6"/><line x1="518.00" y1="388" x2="518.00" y2="394" stroke="#000" stroke-width="1.6"/>
<rect x="46" y="16" width="472" height="379" fill="none" stroke="#000" stroke-width="2"/>
<g font-family="'Liberation Serif', serif" font-size="25" fill="#000" stroke="#000" stroke-width="0.35">
<text x="46.00" y="421.6" text-anchor="middle">1000</text><text x="140.40" y="421.6" text-anchor="middle">1500</text><text x="234.80" y="421.6" text-anchor="middle">2000</text><text x="329.20" y="421.6" text-anchor="middle">2500</text><text x="423.60" y="421.6" text-anchor="middle">3000</text><text x="518.00" y="421.6" text-anchor="middle">3500</text>
<text x="282.5" y="466" text-anchor="middle" font-size="27.8">Raman shift (cm<tspan dy="-10.5" font-size="19">&#8722;1</tspan><tspan dy="10.5">)</tspan></text>
<text transform="translate(30,205.3) rotate(-90)" text-anchor="middle" font-size="27.8">Relative Intensity (a.u.)</text>
<text x="79.5" y="70" font-size="25.5">D</text>
<text x="171.5" y="54" font-size="29">G</text>
<text x="402.5" y="53" font-size="24.2">MCB</text>
<text x="402.5" y="82.3" font-size="24.2">Ce&#8722;MCB</text>
</g>
<line x1="341" y1="43.9" x2="397.5" y2="43.9" stroke="#5e5e5e" stroke-width="2.5"/>
<line x1="341" y1="73.9" x2="397.5" y2="73.9" stroke="#c00000" stroke-width="2.5"/>
</svg>
</body></html>
